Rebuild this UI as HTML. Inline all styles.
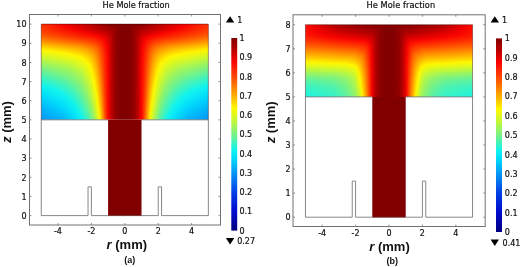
<!DOCTYPE html>
<html><head><meta charset="utf-8"><title>He Mole fraction</title>
<style>
html,body{margin:0;padding:0;background:#fff;overflow:hidden}
svg{display:block}
.t{font-family:"DejaVu Sans","Liberation Sans",sans-serif;font-size:8px;fill:#111;stroke:#111;stroke-width:.2px}
.b{font-family:"Liberation Sans","DejaVu Sans",sans-serif;font-weight:bold;fill:#111}
</style></head><body>
<svg width="520" height="267" viewBox="0 0 520 267">
<defs>
<clipPath id="cpa"><rect x="41.25" y="24.10" width="167.10" height="95.75"/></clipPath>
<linearGradient id="a24" gradientUnits="userSpaceOnUse" x1="41.25" x2="124.80" y1="0" y2="0" spreadMethod="reflect"><stop offset="0.000" stop-color="#fe3500"/><stop offset="0.263" stop-color="#f80400"/><stop offset="0.800" stop-color="#840000"/><stop offset="1.000" stop-color="#800000"/></linearGradient>
<linearGradient id="a25" gradientUnits="userSpaceOnUse" x1="41.25" x2="124.80" y1="0" y2="0" spreadMethod="reflect"><stop offset="0.000" stop-color="#fe3500"/><stop offset="0.275" stop-color="#f90400"/><stop offset="0.812" stop-color="#8c0000"/><stop offset="1.000" stop-color="#800000"/></linearGradient>
<linearGradient id="a26" gradientUnits="userSpaceOnUse" x1="41.25" x2="124.80" y1="0" y2="0" spreadMethod="reflect"><stop offset="0.000" stop-color="#fe3700"/><stop offset="0.300" stop-color="#f80400"/><stop offset="0.812" stop-color="#940000"/><stop offset="0.988" stop-color="#800000"/><stop offset="1.000" stop-color="#800000"/></linearGradient>
<linearGradient id="a27" gradientUnits="userSpaceOnUse" x1="41.25" x2="124.80" y1="0" y2="0" spreadMethod="reflect"><stop offset="0.000" stop-color="#fe3800"/><stop offset="0.325" stop-color="#f80400"/><stop offset="0.825" stop-color="#9b0000"/><stop offset="0.975" stop-color="#800000"/><stop offset="1.000" stop-color="#800000"/></linearGradient>
<linearGradient id="a28" gradientUnits="userSpaceOnUse" x1="41.25" x2="124.80" y1="0" y2="0" spreadMethod="reflect"><stop offset="0.000" stop-color="#fe3a00"/><stop offset="0.350" stop-color="#f90400"/><stop offset="0.875" stop-color="#940000"/><stop offset="0.963" stop-color="#800000"/><stop offset="1.000" stop-color="#800000"/></linearGradient>
<linearGradient id="a29" gradientUnits="userSpaceOnUse" x1="41.25" x2="124.80" y1="0" y2="0" spreadMethod="reflect"><stop offset="0.000" stop-color="#ff3c00"/><stop offset="0.375" stop-color="#fa0400"/><stop offset="0.850" stop-color="#9f0000"/><stop offset="0.938" stop-color="#830000"/><stop offset="1.000" stop-color="#800000"/></linearGradient>
<linearGradient id="a30" gradientUnits="userSpaceOnUse" x1="41.25" x2="124.80" y1="0" y2="0" spreadMethod="reflect"><stop offset="0.000" stop-color="#ff3f00"/><stop offset="0.412" stop-color="#f90400"/><stop offset="0.838" stop-color="#a70000"/><stop offset="0.938" stop-color="#830000"/><stop offset="1.000" stop-color="#800000"/></linearGradient>
<linearGradient id="a31" gradientUnits="userSpaceOnUse" x1="41.25" x2="124.80" y1="0" y2="0" spreadMethod="reflect"><stop offset="0.000" stop-color="#ff4300"/><stop offset="0.463" stop-color="#f80400"/><stop offset="0.812" stop-color="#b30000"/><stop offset="0.925" stop-color="#860000"/><stop offset="1.000" stop-color="#800000"/></linearGradient>
<linearGradient id="a32" gradientUnits="userSpaceOnUse" x1="41.25" x2="124.80" y1="0" y2="0" spreadMethod="reflect"><stop offset="0.000" stop-color="#ff4700"/><stop offset="0.512" stop-color="#f80400"/><stop offset="0.787" stop-color="#c00000"/><stop offset="0.850" stop-color="#a60000"/><stop offset="0.925" stop-color="#860000"/><stop offset="1.000" stop-color="#800000"/></linearGradient>
<linearGradient id="a33" gradientUnits="userSpaceOnUse" x1="41.25" x2="124.80" y1="0" y2="0" spreadMethod="reflect"><stop offset="0.000" stop-color="#ff4d00"/><stop offset="0.562" stop-color="#f90400"/><stop offset="0.762" stop-color="#cd0000"/><stop offset="0.825" stop-color="#b70000"/><stop offset="0.900" stop-color="#8d0000"/><stop offset="0.975" stop-color="#800000"/><stop offset="1.000" stop-color="#800000"/></linearGradient>
<linearGradient id="a34" gradientUnits="userSpaceOnUse" x1="41.25" x2="124.80" y1="0" y2="0" spreadMethod="reflect"><stop offset="0.000" stop-color="#ff5400"/><stop offset="0.613" stop-color="#fa0400"/><stop offset="0.800" stop-color="#c80000"/><stop offset="0.900" stop-color="#8d0000"/><stop offset="0.975" stop-color="#800000"/><stop offset="1.000" stop-color="#800000"/></linearGradient>
<linearGradient id="a35" gradientUnits="userSpaceOnUse" x1="41.25" x2="124.80" y1="0" y2="0" spreadMethod="reflect"><stop offset="0.000" stop-color="#ff5c00"/><stop offset="0.662" stop-color="#f90400"/><stop offset="0.800" stop-color="#cd0000"/><stop offset="0.900" stop-color="#8d0000"/><stop offset="0.975" stop-color="#800000"/><stop offset="1.000" stop-color="#800000"/></linearGradient>
<linearGradient id="a36" gradientUnits="userSpaceOnUse" x1="41.25" x2="124.80" y1="0" y2="0" spreadMethod="reflect"><stop offset="0.000" stop-color="#ff6400"/><stop offset="0.650" stop-color="#fc0c00"/><stop offset="0.700" stop-color="#f80400"/><stop offset="0.800" stop-color="#d20000"/><stop offset="0.887" stop-color="#930000"/><stop offset="0.963" stop-color="#800000"/><stop offset="1.000" stop-color="#800000"/></linearGradient>
<linearGradient id="a37" gradientUnits="userSpaceOnUse" x1="41.25" x2="124.80" y1="0" y2="0" spreadMethod="reflect"><stop offset="0.000" stop-color="#ff6d00"/><stop offset="0.637" stop-color="#fd1700"/><stop offset="0.725" stop-color="#f80400"/><stop offset="0.800" stop-color="#d60100"/><stop offset="0.887" stop-color="#930000"/><stop offset="0.963" stop-color="#800000"/><stop offset="1.000" stop-color="#800000"/></linearGradient>
<linearGradient id="a38" gradientUnits="userSpaceOnUse" x1="41.25" x2="124.80" y1="0" y2="0" spreadMethod="reflect"><stop offset="0.000" stop-color="#ff7700"/><stop offset="0.625" stop-color="#fd2300"/><stop offset="0.738" stop-color="#fa0400"/><stop offset="0.800" stop-color="#da0100"/><stop offset="0.875" stop-color="#9a0000"/><stop offset="0.938" stop-color="#830000"/><stop offset="1.000" stop-color="#800000"/></linearGradient>
<linearGradient id="a39" gradientUnits="userSpaceOnUse" x1="41.25" x2="124.80" y1="0" y2="0" spreadMethod="reflect"><stop offset="0.000" stop-color="#ff8000"/><stop offset="0.613" stop-color="#fe2e00"/><stop offset="0.738" stop-color="#fc0800"/><stop offset="0.762" stop-color="#f30300"/><stop offset="0.800" stop-color="#dd0100"/><stop offset="0.875" stop-color="#9a0000"/><stop offset="0.938" stop-color="#830000"/><stop offset="1.000" stop-color="#800000"/></linearGradient>
<linearGradient id="a40" gradientUnits="userSpaceOnUse" x1="41.25" x2="124.80" y1="0" y2="0" spreadMethod="reflect"><stop offset="0.000" stop-color="#ff8a00"/><stop offset="0.550" stop-color="#ff4200"/><stop offset="0.700" stop-color="#fd1e00"/><stop offset="0.762" stop-color="#f70400"/><stop offset="0.812" stop-color="#d20000"/><stop offset="0.887" stop-color="#930000"/><stop offset="0.963" stop-color="#800000"/><stop offset="1.000" stop-color="#800000"/></linearGradient>
<linearGradient id="a41" gradientUnits="userSpaceOnUse" x1="41.25" x2="124.80" y1="0" y2="0" spreadMethod="reflect"><stop offset="0.000" stop-color="#ff9500"/><stop offset="0.525" stop-color="#ff5100"/><stop offset="0.688" stop-color="#fe2a00"/><stop offset="0.762" stop-color="#fc0400"/><stop offset="0.812" stop-color="#d40100"/><stop offset="0.875" stop-color="#9b0000"/><stop offset="0.938" stop-color="#830000"/><stop offset="1.000" stop-color="#800000"/></linearGradient>
<linearGradient id="a42" gradientUnits="userSpaceOnUse" x1="41.25" x2="124.80" y1="0" y2="0" spreadMethod="reflect"><stop offset="0.000" stop-color="#ffa000"/><stop offset="0.500" stop-color="#ff6100"/><stop offset="0.675" stop-color="#fe3600"/><stop offset="0.762" stop-color="#fc0700"/><stop offset="0.800" stop-color="#e40200"/><stop offset="0.863" stop-color="#a40000"/><stop offset="0.925" stop-color="#860000"/><stop offset="1.000" stop-color="#800000"/></linearGradient>
<linearGradient id="a43" gradientUnits="userSpaceOnUse" x1="41.25" x2="124.80" y1="0" y2="0" spreadMethod="reflect"><stop offset="0.000" stop-color="#ffac00"/><stop offset="0.487" stop-color="#ff6f00"/><stop offset="0.637" stop-color="#ff4b00"/><stop offset="0.725" stop-color="#fd2300"/><stop offset="0.775" stop-color="#f90400"/><stop offset="0.812" stop-color="#d70100"/><stop offset="0.875" stop-color="#9b0000"/><stop offset="0.938" stop-color="#830000"/><stop offset="1.000" stop-color="#800000"/></linearGradient>
<linearGradient id="a44" gradientUnits="userSpaceOnUse" x1="41.25" x2="124.80" y1="0" y2="0" spreadMethod="reflect"><stop offset="0.000" stop-color="#ffb800"/><stop offset="0.487" stop-color="#ff7b00"/><stop offset="0.637" stop-color="#ff5500"/><stop offset="0.725" stop-color="#fe2700"/><stop offset="0.775" stop-color="#fb0400"/><stop offset="0.800" stop-color="#e80200"/><stop offset="0.850" stop-color="#b00000"/><stop offset="0.900" stop-color="#8e0000"/><stop offset="0.975" stop-color="#800000"/><stop offset="1.000" stop-color="#800000"/></linearGradient>
<linearGradient id="a45" gradientUnits="userSpaceOnUse" x1="41.25" x2="124.80" y1="0" y2="0" spreadMethod="reflect"><stop offset="0.000" stop-color="#ffc400"/><stop offset="0.475" stop-color="#ff8900"/><stop offset="0.625" stop-color="#ff6200"/><stop offset="0.713" stop-color="#fe3400"/><stop offset="0.775" stop-color="#fc0600"/><stop offset="0.800" stop-color="#ea0200"/><stop offset="0.850" stop-color="#b10000"/><stop offset="0.887" stop-color="#940000"/><stop offset="0.950" stop-color="#810000"/><stop offset="1.000" stop-color="#800000"/></linearGradient>
<linearGradient id="a46" gradientUnits="userSpaceOnUse" x1="41.25" x2="124.80" y1="0" y2="0" spreadMethod="reflect"><stop offset="0.000" stop-color="#ffcf00"/><stop offset="0.463" stop-color="#ff9600"/><stop offset="0.613" stop-color="#ff7000"/><stop offset="0.688" stop-color="#ff4a00"/><stop offset="0.775" stop-color="#fc0700"/><stop offset="0.800" stop-color="#eb0300"/><stop offset="0.863" stop-color="#a50000"/><stop offset="0.912" stop-color="#890000"/><stop offset="0.988" stop-color="#800000"/><stop offset="1.000" stop-color="#800000"/></linearGradient>
<linearGradient id="a47" gradientUnits="userSpaceOnUse" x1="41.25" x2="124.80" y1="0" y2="0" spreadMethod="reflect"><stop offset="0.000" stop-color="#ffdb00"/><stop offset="0.463" stop-color="#ffa000"/><stop offset="0.600" stop-color="#ff7d00"/><stop offset="0.675" stop-color="#ff5900"/><stop offset="0.775" stop-color="#fc0900"/><stop offset="0.800" stop-color="#ec0300"/><stop offset="0.850" stop-color="#b10000"/><stop offset="0.887" stop-color="#940000"/><stop offset="0.950" stop-color="#810000"/><stop offset="1.000" stop-color="#800000"/></linearGradient>
<linearGradient id="a48" gradientUnits="userSpaceOnUse" x1="41.25" x2="124.80" y1="0" y2="0" spreadMethod="reflect"><stop offset="0.000" stop-color="#ffe600"/><stop offset="0.438" stop-color="#ffaf00"/><stop offset="0.588" stop-color="#ff8a00"/><stop offset="0.662" stop-color="#ff6800"/><stop offset="0.787" stop-color="#f80400"/><stop offset="0.812" stop-color="#dc0100"/><stop offset="0.875" stop-color="#9b0000"/><stop offset="0.938" stop-color="#830000"/><stop offset="1.000" stop-color="#800000"/></linearGradient>
<linearGradient id="a49" gradientUnits="userSpaceOnUse" x1="41.25" x2="124.80" y1="0" y2="0" spreadMethod="reflect"><stop offset="0.000" stop-color="#fff100"/><stop offset="0.425" stop-color="#ffbd00"/><stop offset="0.588" stop-color="#ff9300"/><stop offset="0.662" stop-color="#ff6e00"/><stop offset="0.787" stop-color="#f90400"/><stop offset="0.863" stop-color="#a50000"/><stop offset="0.912" stop-color="#890000"/><stop offset="0.988" stop-color="#800000"/><stop offset="1.000" stop-color="#800000"/></linearGradient>
<linearGradient id="a50" gradientUnits="userSpaceOnUse" x1="41.25" x2="124.80" y1="0" y2="0" spreadMethod="reflect"><stop offset="0.000" stop-color="#fcf803"/><stop offset="0.350" stop-color="#ffd300"/><stop offset="0.537" stop-color="#ffac00"/><stop offset="0.637" stop-color="#ff8400"/><stop offset="0.700" stop-color="#ff5200"/><stop offset="0.787" stop-color="#fa0400"/><stop offset="0.863" stop-color="#a60000"/><stop offset="0.912" stop-color="#890000"/><stop offset="0.988" stop-color="#800000"/><stop offset="1.000" stop-color="#800000"/></linearGradient>
<linearGradient id="a51" gradientUnits="userSpaceOnUse" x1="41.25" x2="124.80" y1="0" y2="0" spreadMethod="reflect"><stop offset="0.000" stop-color="#f4f80a"/><stop offset="0.175" stop-color="#fff300"/><stop offset="0.463" stop-color="#ffc900"/><stop offset="0.600" stop-color="#ff9d00"/><stop offset="0.662" stop-color="#ff7800"/><stop offset="0.787" stop-color="#fb0400"/><stop offset="0.812" stop-color="#de0100"/><stop offset="0.863" stop-color="#a60000"/><stop offset="0.912" stop-color="#890000"/><stop offset="0.988" stop-color="#800000"/><stop offset="1.000" stop-color="#800000"/></linearGradient>
<linearGradient id="a52" gradientUnits="userSpaceOnUse" x1="41.25" x2="124.80" y1="0" y2="0" spreadMethod="reflect"><stop offset="0.000" stop-color="#edf811"/><stop offset="0.237" stop-color="#fff500"/><stop offset="0.475" stop-color="#ffce00"/><stop offset="0.600" stop-color="#ffa300"/><stop offset="0.662" stop-color="#ff7d00"/><stop offset="0.787" stop-color="#fc0400"/><stop offset="0.812" stop-color="#de0100"/><stop offset="0.863" stop-color="#a60000"/><stop offset="0.912" stop-color="#890000"/><stop offset="0.988" stop-color="#800000"/><stop offset="1.000" stop-color="#800000"/></linearGradient>
<linearGradient id="a53" gradientUnits="userSpaceOnUse" x1="41.25" x2="124.80" y1="0" y2="0" spreadMethod="reflect"><stop offset="0.000" stop-color="#e5f817"/><stop offset="0.312" stop-color="#fff400"/><stop offset="0.487" stop-color="#ffd300"/><stop offset="0.600" stop-color="#ffaa00"/><stop offset="0.662" stop-color="#ff8100"/><stop offset="0.787" stop-color="#fc0500"/><stop offset="0.812" stop-color="#de0100"/><stop offset="0.863" stop-color="#a60000"/><stop offset="0.912" stop-color="#890000"/><stop offset="0.988" stop-color="#800000"/><stop offset="1.000" stop-color="#800000"/></linearGradient>
<linearGradient id="a54" gradientUnits="userSpaceOnUse" x1="41.25" x2="124.80" y1="0" y2="0" spreadMethod="reflect"><stop offset="0.000" stop-color="#def81e"/><stop offset="0.362" stop-color="#fff500"/><stop offset="0.512" stop-color="#ffd400"/><stop offset="0.613" stop-color="#ffa900"/><stop offset="0.675" stop-color="#ff7900"/><stop offset="0.787" stop-color="#fc0500"/><stop offset="0.800" stop-color="#f20300"/><stop offset="0.850" stop-color="#b20000"/><stop offset="0.887" stop-color="#940000"/><stop offset="0.950" stop-color="#810000"/><stop offset="1.000" stop-color="#800000"/></linearGradient>
<linearGradient id="a55" gradientUnits="userSpaceOnUse" x1="41.25" x2="124.80" y1="0" y2="0" spreadMethod="reflect"><stop offset="0.000" stop-color="#d7f824"/><stop offset="0.412" stop-color="#fff500"/><stop offset="0.550" stop-color="#ffce00"/><stop offset="0.637" stop-color="#ff9e00"/><stop offset="0.700" stop-color="#ff6200"/><stop offset="0.787" stop-color="#fc0600"/><stop offset="0.800" stop-color="#f20300"/><stop offset="0.850" stop-color="#b20000"/><stop offset="0.887" stop-color="#940000"/><stop offset="0.950" stop-color="#810000"/><stop offset="1.000" stop-color="#800000"/></linearGradient>
<linearGradient id="a56" gradientUnits="userSpaceOnUse" x1="41.25" x2="124.80" y1="0" y2="0" spreadMethod="reflect"><stop offset="0.000" stop-color="#d0f82a"/><stop offset="0.400" stop-color="#f9f806"/><stop offset="0.463" stop-color="#fff200"/><stop offset="0.575" stop-color="#ffc900"/><stop offset="0.650" stop-color="#ff9800"/><stop offset="0.725" stop-color="#ff4600"/><stop offset="0.787" stop-color="#fc0700"/><stop offset="0.800" stop-color="#f30300"/><stop offset="0.838" stop-color="#c00000"/><stop offset="0.887" stop-color="#940000"/><stop offset="0.950" stop-color="#810000"/><stop offset="1.000" stop-color="#800000"/></linearGradient>
<linearGradient id="a57" gradientUnits="userSpaceOnUse" x1="41.25" x2="124.80" y1="0" y2="0" spreadMethod="reflect"><stop offset="0.000" stop-color="#c8f832"/><stop offset="0.425" stop-color="#f6f808"/><stop offset="0.487" stop-color="#fff200"/><stop offset="0.588" stop-color="#ffc900"/><stop offset="0.662" stop-color="#ff9000"/><stop offset="0.775" stop-color="#fd1300"/><stop offset="0.800" stop-color="#f30300"/><stop offset="0.838" stop-color="#c00000"/><stop offset="0.887" stop-color="#940000"/><stop offset="0.950" stop-color="#810000"/><stop offset="1.000" stop-color="#800000"/></linearGradient>
<linearGradient id="a58" gradientUnits="userSpaceOnUse" x1="41.25" x2="124.80" y1="0" y2="0" spreadMethod="reflect"><stop offset="0.000" stop-color="#c1f73a"/><stop offset="0.412" stop-color="#eef80f"/><stop offset="0.500" stop-color="#fff500"/><stop offset="0.600" stop-color="#ffc700"/><stop offset="0.675" stop-color="#ff8700"/><stop offset="0.775" stop-color="#fd1300"/><stop offset="0.800" stop-color="#f40300"/><stop offset="0.838" stop-color="#c00000"/><stop offset="0.887" stop-color="#940000"/><stop offset="0.950" stop-color="#810000"/><stop offset="1.000" stop-color="#800000"/></linearGradient>
<linearGradient id="a59" gradientUnits="userSpaceOnUse" x1="41.25" x2="124.80" y1="0" y2="0" spreadMethod="reflect"><stop offset="0.000" stop-color="#b9f742"/><stop offset="0.425" stop-color="#eaf813"/><stop offset="0.512" stop-color="#fff700"/><stop offset="0.600" stop-color="#ffcc00"/><stop offset="0.675" stop-color="#ff8a00"/><stop offset="0.775" stop-color="#fd1400"/><stop offset="0.800" stop-color="#f40300"/><stop offset="0.838" stop-color="#c00000"/><stop offset="0.887" stop-color="#940000"/><stop offset="0.950" stop-color="#810000"/><stop offset="1.000" stop-color="#800000"/></linearGradient>
<linearGradient id="a60" gradientUnits="userSpaceOnUse" x1="41.25" x2="124.80" y1="0" y2="0" spreadMethod="reflect"><stop offset="0.000" stop-color="#b2f649"/><stop offset="0.425" stop-color="#e5f818"/><stop offset="0.525" stop-color="#fef801"/><stop offset="0.600" stop-color="#ffd000"/><stop offset="0.675" stop-color="#ff8d00"/><stop offset="0.775" stop-color="#fd1500"/><stop offset="0.800" stop-color="#f40300"/><stop offset="0.838" stop-color="#c00000"/><stop offset="0.887" stop-color="#940000"/><stop offset="0.950" stop-color="#810000"/><stop offset="1.000" stop-color="#800000"/></linearGradient>
<linearGradient id="a61" gradientUnits="userSpaceOnUse" x1="41.25" x2="124.80" y1="0" y2="0" spreadMethod="reflect"><stop offset="0.000" stop-color="#aaf651"/><stop offset="0.412" stop-color="#ddf81f"/><stop offset="0.550" stop-color="#fff400"/><stop offset="0.625" stop-color="#ffc100"/><stop offset="0.688" stop-color="#ff8100"/><stop offset="0.762" stop-color="#fd2300"/><stop offset="0.787" stop-color="#fc0900"/><stop offset="0.800" stop-color="#f50300"/><stop offset="0.838" stop-color="#c00000"/><stop offset="0.887" stop-color="#940000"/><stop offset="0.950" stop-color="#810000"/><stop offset="1.000" stop-color="#800000"/></linearGradient>
<linearGradient id="a62" gradientUnits="userSpaceOnUse" x1="41.25" x2="124.80" y1="0" y2="0" spreadMethod="reflect"><stop offset="0.000" stop-color="#a3f558"/><stop offset="0.375" stop-color="#d1f829"/><stop offset="0.525" stop-color="#f5f809"/><stop offset="0.562" stop-color="#fff300"/><stop offset="0.650" stop-color="#ffad00"/><stop offset="0.713" stop-color="#ff6200"/><stop offset="0.775" stop-color="#fd1600"/><stop offset="0.800" stop-color="#f50300"/><stop offset="0.838" stop-color="#c00000"/><stop offset="0.887" stop-color="#940000"/><stop offset="0.950" stop-color="#810000"/><stop offset="1.000" stop-color="#800000"/></linearGradient>
<linearGradient id="a63" gradientUnits="userSpaceOnUse" x1="41.25" x2="124.80" y1="0" y2="0" spreadMethod="reflect"><stop offset="0.000" stop-color="#9cf55f"/><stop offset="0.350" stop-color="#c7f833"/><stop offset="0.512" stop-color="#ecf811"/><stop offset="0.562" stop-color="#fff800"/><stop offset="0.637" stop-color="#ffbd00"/><stop offset="0.700" stop-color="#ff7600"/><stop offset="0.762" stop-color="#fd2400"/><stop offset="0.787" stop-color="#fc0a00"/><stop offset="0.800" stop-color="#f50300"/><stop offset="0.838" stop-color="#c00000"/><stop offset="0.887" stop-color="#940000"/><stop offset="0.950" stop-color="#810000"/><stop offset="1.000" stop-color="#800000"/></linearGradient>
<linearGradient id="a64" gradientUnits="userSpaceOnUse" x1="41.25" x2="124.80" y1="0" y2="0" spreadMethod="reflect"><stop offset="0.000" stop-color="#95f466"/><stop offset="0.338" stop-color="#bff73b"/><stop offset="0.512" stop-color="#e7f816"/><stop offset="0.575" stop-color="#fff400"/><stop offset="0.662" stop-color="#ffa700"/><stop offset="0.775" stop-color="#fd1700"/><stop offset="0.800" stop-color="#f60300"/><stop offset="0.838" stop-color="#c10000"/><stop offset="0.875" stop-color="#9c0000"/><stop offset="0.938" stop-color="#830000"/><stop offset="1.000" stop-color="#800000"/></linearGradient>
<linearGradient id="a65" gradientUnits="userSpaceOnUse" x1="41.25" x2="124.80" y1="0" y2="0" spreadMethod="reflect"><stop offset="0.000" stop-color="#8ff46d"/><stop offset="0.338" stop-color="#b9f742"/><stop offset="0.512" stop-color="#e3f81a"/><stop offset="0.575" stop-color="#fef801"/><stop offset="0.650" stop-color="#ffb700"/><stop offset="0.713" stop-color="#ff6800"/><stop offset="0.775" stop-color="#fd1700"/><stop offset="0.800" stop-color="#f60300"/><stop offset="0.838" stop-color="#c10000"/><stop offset="0.875" stop-color="#9c0000"/><stop offset="0.938" stop-color="#830000"/><stop offset="1.000" stop-color="#800000"/></linearGradient>
<linearGradient id="a66" gradientUnits="userSpaceOnUse" x1="41.25" x2="124.80" y1="0" y2="0" spreadMethod="reflect"><stop offset="0.000" stop-color="#88f374"/><stop offset="0.338" stop-color="#b3f648"/><stop offset="0.512" stop-color="#def81e"/><stop offset="0.588" stop-color="#fff400"/><stop offset="0.662" stop-color="#ffac00"/><stop offset="0.762" stop-color="#fe2600"/><stop offset="0.800" stop-color="#f60300"/><stop offset="0.838" stop-color="#c10000"/><stop offset="0.875" stop-color="#9c0000"/><stop offset="0.938" stop-color="#830000"/><stop offset="1.000" stop-color="#800000"/></linearGradient>
<linearGradient id="a67" gradientUnits="userSpaceOnUse" x1="41.25" x2="124.80" y1="0" y2="0" spreadMethod="reflect"><stop offset="0.000" stop-color="#82f37a"/><stop offset="0.338" stop-color="#adf64e"/><stop offset="0.500" stop-color="#d5f826"/><stop offset="0.588" stop-color="#fff800"/><stop offset="0.662" stop-color="#ffaf00"/><stop offset="0.762" stop-color="#fe2700"/><stop offset="0.787" stop-color="#fc0b00"/><stop offset="0.800" stop-color="#f60400"/><stop offset="0.838" stop-color="#c10000"/><stop offset="0.875" stop-color="#9c0000"/><stop offset="0.938" stop-color="#830000"/><stop offset="1.000" stop-color="#800000"/></linearGradient>
<linearGradient id="a68" gradientUnits="userSpaceOnUse" x1="41.25" x2="124.80" y1="0" y2="0" spreadMethod="reflect"><stop offset="0.000" stop-color="#7bf281"/><stop offset="0.325" stop-color="#a5f556"/><stop offset="0.487" stop-color="#cdf82d"/><stop offset="0.575" stop-color="#f4f80a"/><stop offset="0.600" stop-color="#fff100"/><stop offset="0.675" stop-color="#ffa300"/><stop offset="0.750" stop-color="#fe3700"/><stop offset="0.787" stop-color="#fc0b00"/><stop offset="0.800" stop-color="#f70400"/><stop offset="0.838" stop-color="#c10000"/><stop offset="0.875" stop-color="#9c0000"/><stop offset="0.938" stop-color="#830000"/><stop offset="1.000" stop-color="#800000"/></linearGradient>
<linearGradient id="a69" gradientUnits="userSpaceOnUse" x1="41.25" x2="124.80" y1="0" y2="0" spreadMethod="reflect"><stop offset="0.000" stop-color="#75f287"/><stop offset="0.338" stop-color="#a2f559"/><stop offset="0.487" stop-color="#c8f832"/><stop offset="0.600" stop-color="#fff500"/><stop offset="0.675" stop-color="#ffa500"/><stop offset="0.762" stop-color="#fe2800"/><stop offset="0.800" stop-color="#f70400"/><stop offset="0.838" stop-color="#c10000"/><stop offset="0.875" stop-color="#9c0000"/><stop offset="0.938" stop-color="#830000"/><stop offset="1.000" stop-color="#800000"/></linearGradient>
<linearGradient id="a70" gradientUnits="userSpaceOnUse" x1="41.25" x2="124.80" y1="0" y2="0" spreadMethod="reflect"><stop offset="0.000" stop-color="#6df28f"/><stop offset="0.350" stop-color="#9ff55c"/><stop offset="0.500" stop-color="#c8f832"/><stop offset="0.600" stop-color="#fef801"/><stop offset="0.662" stop-color="#ffb700"/><stop offset="0.725" stop-color="#ff5e00"/><stop offset="0.775" stop-color="#fd1a00"/><stop offset="0.800" stop-color="#f70400"/><stop offset="0.838" stop-color="#c10000"/><stop offset="0.875" stop-color="#9c0000"/><stop offset="0.938" stop-color="#830000"/><stop offset="1.000" stop-color="#800000"/></linearGradient>
<linearGradient id="a71" gradientUnits="userSpaceOnUse" x1="41.25" x2="124.80" y1="0" y2="0" spreadMethod="reflect"><stop offset="0.000" stop-color="#66f296"/><stop offset="0.350" stop-color="#9af461"/><stop offset="0.487" stop-color="#bff73c"/><stop offset="0.588" stop-color="#f3f80b"/><stop offset="0.613" stop-color="#fff100"/><stop offset="0.688" stop-color="#ff9900"/><stop offset="0.762" stop-color="#fe2900"/><stop offset="0.787" stop-color="#fc0c00"/><stop offset="0.800" stop-color="#f70400"/><stop offset="0.838" stop-color="#c10000"/><stop offset="0.875" stop-color="#9c0000"/><stop offset="0.938" stop-color="#830000"/><stop offset="1.000" stop-color="#800000"/></linearGradient>
<linearGradient id="a72" gradientUnits="userSpaceOnUse" x1="41.25" x2="124.80" y1="0" y2="0" spreadMethod="reflect"><stop offset="0.000" stop-color="#5ff29d"/><stop offset="0.362" stop-color="#98f463"/><stop offset="0.487" stop-color="#baf740"/><stop offset="0.613" stop-color="#fff400"/><stop offset="0.675" stop-color="#ffac00"/><stop offset="0.762" stop-color="#fe2a00"/><stop offset="0.800" stop-color="#f70400"/><stop offset="0.838" stop-color="#c10000"/><stop offset="0.875" stop-color="#9c0000"/><stop offset="0.938" stop-color="#830000"/><stop offset="1.000" stop-color="#800000"/></linearGradient>
<linearGradient id="a73" gradientUnits="userSpaceOnUse" x1="41.25" x2="124.80" y1="0" y2="0" spreadMethod="reflect"><stop offset="0.000" stop-color="#59f3a4"/><stop offset="0.362" stop-color="#93f468"/><stop offset="0.500" stop-color="#bbf73f"/><stop offset="0.613" stop-color="#fff700"/><stop offset="0.688" stop-color="#ff9d00"/><stop offset="0.762" stop-color="#fe2b00"/><stop offset="0.800" stop-color="#f70400"/><stop offset="0.838" stop-color="#c10000"/><stop offset="0.875" stop-color="#9c0000"/><stop offset="0.938" stop-color="#830000"/><stop offset="1.000" stop-color="#800000"/></linearGradient>
<linearGradient id="a74" gradientUnits="userSpaceOnUse" x1="41.25" x2="124.80" y1="0" y2="0" spreadMethod="reflect"><stop offset="0.000" stop-color="#52f3ab"/><stop offset="0.350" stop-color="#8cf370"/><stop offset="0.487" stop-color="#b2f649"/><stop offset="0.600" stop-color="#f3f80b"/><stop offset="0.613" stop-color="#fdf802"/><stop offset="0.662" stop-color="#ffc200"/><stop offset="0.762" stop-color="#fe2b00"/><stop offset="0.800" stop-color="#f80400"/><stop offset="0.838" stop-color="#c10000"/><stop offset="0.875" stop-color="#9c0000"/><stop offset="0.938" stop-color="#830000"/><stop offset="1.000" stop-color="#800000"/></linearGradient>
<linearGradient id="a75" gradientUnits="userSpaceOnUse" x1="41.25" x2="124.80" y1="0" y2="0" spreadMethod="reflect"><stop offset="0.000" stop-color="#4bf3b2"/><stop offset="0.325" stop-color="#82f37a"/><stop offset="0.487" stop-color="#aef64d"/><stop offset="0.600" stop-color="#f1f80d"/><stop offset="0.625" stop-color="#fff000"/><stop offset="0.688" stop-color="#ffa100"/><stop offset="0.762" stop-color="#fe2c00"/><stop offset="0.787" stop-color="#fc0d00"/><stop offset="0.800" stop-color="#f80400"/><stop offset="0.838" stop-color="#c10000"/><stop offset="0.875" stop-color="#9c0000"/><stop offset="0.938" stop-color="#830000"/><stop offset="1.000" stop-color="#800000"/></linearGradient>
<linearGradient id="a76" gradientUnits="userSpaceOnUse" x1="41.25" x2="124.80" y1="0" y2="0" spreadMethod="reflect"><stop offset="0.000" stop-color="#45f3b9"/><stop offset="0.300" stop-color="#78f284"/><stop offset="0.475" stop-color="#a5f556"/><stop offset="0.575" stop-color="#dcf81f"/><stop offset="0.625" stop-color="#fff300"/><stop offset="0.688" stop-color="#ffa400"/><stop offset="0.762" stop-color="#fe2d00"/><stop offset="0.800" stop-color="#f80400"/><stop offset="0.838" stop-color="#c10000"/><stop offset="0.875" stop-color="#9c0000"/><stop offset="0.938" stop-color="#830000"/><stop offset="1.000" stop-color="#800000"/></linearGradient>
<linearGradient id="a77" gradientUnits="userSpaceOnUse" x1="41.25" x2="124.80" y1="0" y2="0" spreadMethod="reflect"><stop offset="0.000" stop-color="#3ff3bf"/><stop offset="0.275" stop-color="#6df28f"/><stop offset="0.475" stop-color="#a1f55a"/><stop offset="0.575" stop-color="#d9f822"/><stop offset="0.625" stop-color="#fff700"/><stop offset="0.688" stop-color="#ffa600"/><stop offset="0.762" stop-color="#fe2d00"/><stop offset="0.800" stop-color="#f80400"/><stop offset="0.838" stop-color="#c10000"/><stop offset="0.875" stop-color="#9c0000"/><stop offset="0.938" stop-color="#830000"/><stop offset="1.000" stop-color="#800000"/></linearGradient>
<linearGradient id="a78" gradientUnits="userSpaceOnUse" x1="41.25" x2="124.80" y1="0" y2="0" spreadMethod="reflect"><stop offset="0.000" stop-color="#38f3c5"/><stop offset="0.275" stop-color="#67f295"/><stop offset="0.487" stop-color="#a2f559"/><stop offset="0.588" stop-color="#dff81d"/><stop offset="0.625" stop-color="#fef801"/><stop offset="0.688" stop-color="#ffa800"/><stop offset="0.762" stop-color="#fe2e00"/><stop offset="0.800" stop-color="#f80400"/><stop offset="0.838" stop-color="#c10000"/><stop offset="0.875" stop-color="#9c0000"/><stop offset="0.938" stop-color="#830000"/><stop offset="1.000" stop-color="#800000"/></linearGradient>
<linearGradient id="a79" gradientUnits="userSpaceOnUse" x1="41.25" x2="124.80" y1="0" y2="0" spreadMethod="reflect"><stop offset="0.000" stop-color="#32f3cc"/><stop offset="0.275" stop-color="#62f29b"/><stop offset="0.487" stop-color="#9ef55d"/><stop offset="0.600" stop-color="#e6f816"/><stop offset="0.625" stop-color="#fbf803"/><stop offset="0.662" stop-color="#ffce00"/><stop offset="0.725" stop-color="#ff6b00"/><stop offset="0.762" stop-color="#fe2e00"/><stop offset="0.800" stop-color="#f80400"/><stop offset="0.838" stop-color="#c10000"/><stop offset="0.875" stop-color="#9c0000"/><stop offset="0.938" stop-color="#830000"/><stop offset="1.000" stop-color="#800000"/></linearGradient>
<linearGradient id="a80" gradientUnits="userSpaceOnUse" x1="41.25" x2="124.80" y1="0" y2="0" spreadMethod="reflect"><stop offset="0.000" stop-color="#2cf3d2"/><stop offset="0.287" stop-color="#5ff29e"/><stop offset="0.487" stop-color="#9bf460"/><stop offset="0.562" stop-color="#c8f832"/><stop offset="0.625" stop-color="#f9f805"/><stop offset="0.637" stop-color="#fff100"/><stop offset="0.700" stop-color="#ff9800"/><stop offset="0.762" stop-color="#fe2f00"/><stop offset="0.800" stop-color="#f80400"/><stop offset="0.838" stop-color="#c10000"/><stop offset="0.875" stop-color="#9c0000"/><stop offset="0.938" stop-color="#830000"/><stop offset="1.000" stop-color="#800000"/></linearGradient>
<linearGradient id="a81" gradientUnits="userSpaceOnUse" x1="41.25" x2="124.80" y1="0" y2="0" spreadMethod="reflect"><stop offset="0.000" stop-color="#26f4d8"/><stop offset="0.275" stop-color="#57f3a6"/><stop offset="0.487" stop-color="#97f464"/><stop offset="0.588" stop-color="#d7f824"/><stop offset="0.637" stop-color="#fff400"/><stop offset="0.700" stop-color="#ff9a00"/><stop offset="0.762" stop-color="#fe3000"/><stop offset="0.800" stop-color="#f80400"/><stop offset="0.838" stop-color="#c10000"/><stop offset="0.875" stop-color="#9c0000"/><stop offset="0.938" stop-color="#830000"/><stop offset="1.000" stop-color="#800000"/></linearGradient>
<linearGradient id="a82" gradientUnits="userSpaceOnUse" x1="41.25" x2="124.80" y1="0" y2="0" spreadMethod="reflect"><stop offset="0.000" stop-color="#20f4df"/><stop offset="0.275" stop-color="#51f3ac"/><stop offset="0.487" stop-color="#94f468"/><stop offset="0.562" stop-color="#c2f739"/><stop offset="0.637" stop-color="#fff700"/><stop offset="0.700" stop-color="#ff9c00"/><stop offset="0.762" stop-color="#fe3000"/><stop offset="0.800" stop-color="#f80400"/><stop offset="0.838" stop-color="#c10000"/><stop offset="0.875" stop-color="#9c0000"/><stop offset="0.938" stop-color="#830000"/><stop offset="1.000" stop-color="#800000"/></linearGradient>
<linearGradient id="a83" gradientUnits="userSpaceOnUse" x1="41.25" x2="124.80" y1="0" y2="0" spreadMethod="reflect"><stop offset="0.000" stop-color="#1af4e5"/><stop offset="0.275" stop-color="#4cf3b2"/><stop offset="0.475" stop-color="#8bf370"/><stop offset="0.550" stop-color="#b5f646"/><stop offset="0.637" stop-color="#fef801"/><stop offset="0.688" stop-color="#ffb300"/><stop offset="0.762" stop-color="#fe3100"/><stop offset="0.800" stop-color="#f90400"/><stop offset="0.838" stop-color="#c10000"/><stop offset="0.875" stop-color="#9c0000"/><stop offset="0.938" stop-color="#830000"/><stop offset="1.000" stop-color="#800000"/></linearGradient>
<linearGradient id="a84" gradientUnits="userSpaceOnUse" x1="41.25" x2="124.80" y1="0" y2="0" spreadMethod="reflect"><stop offset="0.000" stop-color="#14f4eb"/><stop offset="0.275" stop-color="#46f3b7"/><stop offset="0.450" stop-color="#7ef27e"/><stop offset="0.537" stop-color="#a8f553"/><stop offset="0.637" stop-color="#fcf803"/><stop offset="0.675" stop-color="#ffc900"/><stop offset="0.762" stop-color="#fe3200"/><stop offset="0.787" stop-color="#fd0f00"/><stop offset="0.800" stop-color="#f90400"/><stop offset="0.838" stop-color="#c10000"/><stop offset="0.875" stop-color="#9c0000"/><stop offset="0.938" stop-color="#830000"/><stop offset="1.000" stop-color="#800000"/></linearGradient>
<linearGradient id="a85" gradientUnits="userSpaceOnUse" x1="41.25" x2="124.80" y1="0" y2="0" spreadMethod="reflect"><stop offset="0.000" stop-color="#0ff4f0"/><stop offset="0.250" stop-color="#3bf3c3"/><stop offset="0.425" stop-color="#70f28c"/><stop offset="0.525" stop-color="#9df55e"/><stop offset="0.625" stop-color="#edf810"/><stop offset="0.637" stop-color="#f9f805"/><stop offset="0.662" stop-color="#ffde00"/><stop offset="0.725" stop-color="#ff7500"/><stop offset="0.762" stop-color="#fe3200"/><stop offset="0.800" stop-color="#f90400"/><stop offset="0.838" stop-color="#c10000"/><stop offset="0.875" stop-color="#9c0000"/><stop offset="0.938" stop-color="#830000"/><stop offset="1.000" stop-color="#800000"/></linearGradient>
<linearGradient id="a86" gradientUnits="userSpaceOnUse" x1="41.25" x2="124.80" y1="0" y2="0" spreadMethod="reflect"><stop offset="0.000" stop-color="#0df1f2"/><stop offset="0.125" stop-color="#1cf4e3"/><stop offset="0.350" stop-color="#51f3ac"/><stop offset="0.512" stop-color="#92f469"/><stop offset="0.588" stop-color="#caf831"/><stop offset="0.637" stop-color="#f7f807"/><stop offset="0.650" stop-color="#fff200"/><stop offset="0.713" stop-color="#ff8e00"/><stop offset="0.762" stop-color="#fe3300"/><stop offset="0.800" stop-color="#f90400"/><stop offset="0.838" stop-color="#c10000"/><stop offset="0.875" stop-color="#9c0000"/><stop offset="0.938" stop-color="#830000"/><stop offset="1.000" stop-color="#800000"/></linearGradient>
<linearGradient id="a87" gradientUnits="userSpaceOnUse" x1="41.25" x2="124.80" y1="0" y2="0" spreadMethod="reflect"><stop offset="0.000" stop-color="#0ceef3"/><stop offset="0.125" stop-color="#16f4e9"/><stop offset="0.338" stop-color="#48f3b5"/><stop offset="0.487" stop-color="#83f379"/><stop offset="0.550" stop-color="#a7f554"/><stop offset="0.650" stop-color="#fff400"/><stop offset="0.713" stop-color="#ff9000"/><stop offset="0.762" stop-color="#fe3400"/><stop offset="0.800" stop-color="#f90400"/><stop offset="0.838" stop-color="#c20000"/><stop offset="0.887" stop-color="#940000"/><stop offset="0.950" stop-color="#810000"/><stop offset="1.000" stop-color="#800000"/></linearGradient>
<linearGradient id="a88" gradientUnits="userSpaceOnUse" x1="41.25" x2="124.80" y1="0" y2="0" spreadMethod="reflect"><stop offset="0.000" stop-color="#0aecf4"/><stop offset="0.138" stop-color="#13f4ec"/><stop offset="0.350" stop-color="#47f3b6"/><stop offset="0.500" stop-color="#85f377"/><stop offset="0.562" stop-color="#aef64d"/><stop offset="0.650" stop-color="#fff700"/><stop offset="0.700" stop-color="#ffa900"/><stop offset="0.762" stop-color="#fe3400"/><stop offset="0.800" stop-color="#f90400"/><stop offset="0.838" stop-color="#c20000"/><stop offset="0.887" stop-color="#940000"/><stop offset="0.950" stop-color="#810000"/><stop offset="1.000" stop-color="#800000"/></linearGradient>
<linearGradient id="a89" gradientUnits="userSpaceOnUse" x1="41.25" x2="124.80" y1="0" y2="0" spreadMethod="reflect"><stop offset="0.000" stop-color="#09e9f6"/><stop offset="0.175" stop-color="#15f4ea"/><stop offset="0.375" stop-color="#4bf3b3"/><stop offset="0.525" stop-color="#8ff46c"/><stop offset="0.613" stop-color="#d7f824"/><stop offset="0.650" stop-color="#fdf801"/><stop offset="0.700" stop-color="#ffab00"/><stop offset="0.762" stop-color="#fe3500"/><stop offset="0.800" stop-color="#f90400"/><stop offset="0.838" stop-color="#c20000"/><stop offset="0.887" stop-color="#940000"/><stop offset="0.950" stop-color="#810000"/><stop offset="1.000" stop-color="#800000"/></linearGradient>
<linearGradient id="a90" gradientUnits="userSpaceOnUse" x1="41.25" x2="124.80" y1="0" y2="0" spreadMethod="reflect"><stop offset="0.000" stop-color="#07e7f7"/><stop offset="0.200" stop-color="#15f4ea"/><stop offset="0.388" stop-color="#4af3b3"/><stop offset="0.537" stop-color="#94f468"/><stop offset="0.637" stop-color="#edf810"/><stop offset="0.650" stop-color="#fbf803"/><stop offset="0.675" stop-color="#ffd800"/><stop offset="0.738" stop-color="#ff6400"/><stop offset="0.775" stop-color="#fd2200"/><stop offset="0.800" stop-color="#f90400"/><stop offset="0.838" stop-color="#c20000"/><stop offset="0.887" stop-color="#940000"/><stop offset="0.950" stop-color="#810000"/><stop offset="1.000" stop-color="#800000"/></linearGradient>
<linearGradient id="a91" gradientUnits="userSpaceOnUse" x1="41.25" x2="124.80" y1="0" y2="0" spreadMethod="reflect"><stop offset="0.000" stop-color="#06e4f8"/><stop offset="0.212" stop-color="#13f4ec"/><stop offset="0.388" stop-color="#46f3b8"/><stop offset="0.525" stop-color="#88f373"/><stop offset="0.600" stop-color="#c6f834"/><stop offset="0.650" stop-color="#f9f805"/><stop offset="0.675" stop-color="#ffda00"/><stop offset="0.725" stop-color="#ff7f00"/><stop offset="0.762" stop-color="#fe3600"/><stop offset="0.800" stop-color="#f90400"/><stop offset="0.838" stop-color="#c20000"/><stop offset="0.887" stop-color="#940000"/><stop offset="0.950" stop-color="#810000"/><stop offset="1.000" stop-color="#800000"/></linearGradient>
<linearGradient id="a92" gradientUnits="userSpaceOnUse" x1="41.25" x2="124.80" y1="0" y2="0" spreadMethod="reflect"><stop offset="0.000" stop-color="#05e2fa"/><stop offset="0.237" stop-color="#13f4eb"/><stop offset="0.400" stop-color="#46f3b7"/><stop offset="0.537" stop-color="#8df36e"/><stop offset="0.625" stop-color="#dbf820"/><stop offset="0.650" stop-color="#f7f808"/><stop offset="0.662" stop-color="#fff000"/><stop offset="0.713" stop-color="#ff9a00"/><stop offset="0.762" stop-color="#fe3700"/><stop offset="0.800" stop-color="#f90400"/><stop offset="0.838" stop-color="#c20000"/><stop offset="0.887" stop-color="#940000"/><stop offset="0.950" stop-color="#810000"/><stop offset="1.000" stop-color="#800000"/></linearGradient>
<linearGradient id="a93" gradientUnits="userSpaceOnUse" x1="41.25" x2="124.80" y1="0" y2="0" spreadMethod="reflect"><stop offset="0.000" stop-color="#03e0fb"/><stop offset="0.250" stop-color="#12f4ed"/><stop offset="0.400" stop-color="#42f3bc"/><stop offset="0.537" stop-color="#8af372"/><stop offset="0.625" stop-color="#d9f822"/><stop offset="0.662" stop-color="#fff300"/><stop offset="0.713" stop-color="#ff9c00"/><stop offset="0.762" stop-color="#fe3800"/><stop offset="0.800" stop-color="#f90400"/><stop offset="0.838" stop-color="#c20000"/><stop offset="0.887" stop-color="#940000"/><stop offset="0.950" stop-color="#810000"/><stop offset="1.000" stop-color="#800000"/></linearGradient>
<linearGradient id="a94" gradientUnits="userSpaceOnUse" x1="41.25" x2="124.80" y1="0" y2="0" spreadMethod="reflect"><stop offset="0.000" stop-color="#02ddfc"/><stop offset="0.275" stop-color="#13f4ec"/><stop offset="0.425" stop-color="#48f3b5"/><stop offset="0.550" stop-color="#90f46c"/><stop offset="0.637" stop-color="#e4f819"/><stop offset="0.662" stop-color="#fff500"/><stop offset="0.713" stop-color="#ff9e00"/><stop offset="0.762" stop-color="#fe3900"/><stop offset="0.800" stop-color="#fa0400"/><stop offset="0.838" stop-color="#c20000"/><stop offset="0.887" stop-color="#940000"/><stop offset="0.950" stop-color="#810000"/><stop offset="1.000" stop-color="#800000"/></linearGradient>
<linearGradient id="a95" gradientUnits="userSpaceOnUse" x1="41.25" x2="124.80" y1="0" y2="0" spreadMethod="reflect"><stop offset="0.000" stop-color="#01dbfd"/><stop offset="0.287" stop-color="#12f4ed"/><stop offset="0.425" stop-color="#44f3b9"/><stop offset="0.550" stop-color="#8cf36f"/><stop offset="0.637" stop-color="#e1f81b"/><stop offset="0.662" stop-color="#fff800"/><stop offset="0.713" stop-color="#ffa000"/><stop offset="0.762" stop-color="#fe3900"/><stop offset="0.800" stop-color="#fa0400"/><stop offset="0.838" stop-color="#c20000"/><stop offset="0.887" stop-color="#940000"/><stop offset="0.950" stop-color="#810000"/><stop offset="1.000" stop-color="#800000"/></linearGradient>
<linearGradient id="a96" gradientUnits="userSpaceOnUse" x1="41.25" x2="124.80" y1="0" y2="0" spreadMethod="reflect"><stop offset="0.000" stop-color="#00d8fe"/><stop offset="0.300" stop-color="#11f4ee"/><stop offset="0.438" stop-color="#46f3b8"/><stop offset="0.550" stop-color="#89f373"/><stop offset="0.637" stop-color="#dff81d"/><stop offset="0.662" stop-color="#fdf802"/><stop offset="0.700" stop-color="#ffbb00"/><stop offset="0.762" stop-color="#fe3a00"/><stop offset="0.800" stop-color="#fa0400"/><stop offset="0.838" stop-color="#c20000"/><stop offset="0.887" stop-color="#940000"/><stop offset="0.950" stop-color="#810000"/><stop offset="1.000" stop-color="#800000"/></linearGradient>
<linearGradient id="a97" gradientUnits="userSpaceOnUse" x1="41.25" x2="124.80" y1="0" y2="0" spreadMethod="reflect"><stop offset="0.000" stop-color="#00d5fd"/><stop offset="0.300" stop-color="#0ef3f1"/><stop offset="0.412" stop-color="#36f3c8"/><stop offset="0.537" stop-color="#7df27f"/><stop offset="0.600" stop-color="#b4f647"/><stop offset="0.662" stop-color="#faf804"/><stop offset="0.688" stop-color="#ffd400"/><stop offset="0.762" stop-color="#fe3b00"/><stop offset="0.800" stop-color="#fa0400"/><stop offset="0.838" stop-color="#c20000"/><stop offset="0.887" stop-color="#940000"/><stop offset="0.950" stop-color="#810000"/><stop offset="1.000" stop-color="#800000"/></linearGradient>
<linearGradient id="a98" gradientUnits="userSpaceOnUse" x1="41.25" x2="124.80" y1="0" y2="0" spreadMethod="reflect"><stop offset="0.000" stop-color="#01d1fd"/><stop offset="0.263" stop-color="#0aecf4"/><stop offset="0.338" stop-color="#14f4eb"/><stop offset="0.463" stop-color="#4bf3b3"/><stop offset="0.562" stop-color="#8cf36f"/><stop offset="0.662" stop-color="#f8f806"/><stop offset="0.675" stop-color="#ffec00"/><stop offset="0.725" stop-color="#ff8c00"/><stop offset="0.775" stop-color="#fe2600"/><stop offset="0.800" stop-color="#fa0400"/><stop offset="0.838" stop-color="#c20000"/><stop offset="0.887" stop-color="#940000"/><stop offset="0.950" stop-color="#810000"/><stop offset="1.000" stop-color="#800000"/></linearGradient>
<linearGradient id="a99" gradientUnits="userSpaceOnUse" x1="41.25" x2="124.80" y1="0" y2="0" spreadMethod="reflect"><stop offset="0.000" stop-color="#01cefd"/><stop offset="0.237" stop-color="#07e7f7"/><stop offset="0.350" stop-color="#14f4eb"/><stop offset="0.475" stop-color="#4ef3af"/><stop offset="0.575" stop-color="#94f467"/><stop offset="0.662" stop-color="#f6f808"/><stop offset="0.675" stop-color="#ffef00"/><stop offset="0.725" stop-color="#ff8e00"/><stop offset="0.762" stop-color="#ff3c00"/><stop offset="0.800" stop-color="#fa0400"/><stop offset="0.838" stop-color="#c20000"/><stop offset="0.887" stop-color="#940000"/><stop offset="0.950" stop-color="#810000"/><stop offset="1.000" stop-color="#800000"/></linearGradient>
<linearGradient id="a100" gradientUnits="userSpaceOnUse" x1="41.25" x2="124.80" y1="0" y2="0" spreadMethod="reflect"><stop offset="0.000" stop-color="#01cbfc"/><stop offset="0.225" stop-color="#05e3f9"/><stop offset="0.362" stop-color="#14f4eb"/><stop offset="0.487" stop-color="#51f3ac"/><stop offset="0.575" stop-color="#91f46a"/><stop offset="0.662" stop-color="#f3f80a"/><stop offset="0.675" stop-color="#fff200"/><stop offset="0.725" stop-color="#ff8f00"/><stop offset="0.775" stop-color="#fe2700"/><stop offset="0.800" stop-color="#fa0400"/><stop offset="0.838" stop-color="#c20000"/><stop offset="0.887" stop-color="#940000"/><stop offset="0.950" stop-color="#810000"/><stop offset="1.000" stop-color="#800000"/></linearGradient>
<linearGradient id="a101" gradientUnits="userSpaceOnUse" x1="41.25" x2="124.80" y1="0" y2="0" spreadMethod="reflect"><stop offset="0.000" stop-color="#01c8fc"/><stop offset="0.225" stop-color="#04e1fa"/><stop offset="0.362" stop-color="#10f4ef"/><stop offset="0.475" stop-color="#46f3b7"/><stop offset="0.575" stop-color="#8ef46e"/><stop offset="0.675" stop-color="#fff400"/><stop offset="0.713" stop-color="#ffac00"/><stop offset="0.762" stop-color="#ff3e00"/><stop offset="0.800" stop-color="#fa0400"/><stop offset="0.838" stop-color="#c20000"/><stop offset="0.887" stop-color="#940000"/><stop offset="0.950" stop-color="#810000"/><stop offset="1.000" stop-color="#800000"/></linearGradient>
<linearGradient id="a102" gradientUnits="userSpaceOnUse" x1="41.25" x2="124.80" y1="0" y2="0" spreadMethod="reflect"><stop offset="0.000" stop-color="#02c5fb"/><stop offset="0.237" stop-color="#04e1fa"/><stop offset="0.375" stop-color="#11f4ee"/><stop offset="0.487" stop-color="#4af3b4"/><stop offset="0.575" stop-color="#8bf371"/><stop offset="0.650" stop-color="#dff81d"/><stop offset="0.675" stop-color="#fff700"/><stop offset="0.725" stop-color="#ff9300"/><stop offset="0.775" stop-color="#fe2800"/><stop offset="0.800" stop-color="#fa0400"/><stop offset="0.838" stop-color="#c20000"/><stop offset="0.887" stop-color="#940000"/><stop offset="0.950" stop-color="#810000"/><stop offset="1.000" stop-color="#800000"/></linearGradient>
<linearGradient id="a103" gradientUnits="userSpaceOnUse" x1="41.25" x2="124.80" y1="0" y2="0" spreadMethod="reflect"><stop offset="0.000" stop-color="#02c1fb"/><stop offset="0.250" stop-color="#04e0fb"/><stop offset="0.388" stop-color="#12f4ed"/><stop offset="0.500" stop-color="#4ef3af"/><stop offset="0.588" stop-color="#93f468"/><stop offset="0.675" stop-color="#fdf801"/><stop offset="0.713" stop-color="#ffb100"/><stop offset="0.762" stop-color="#ff4000"/><stop offset="0.800" stop-color="#fa0400"/><stop offset="0.838" stop-color="#c20000"/><stop offset="0.887" stop-color="#940000"/><stop offset="0.950" stop-color="#810000"/><stop offset="1.000" stop-color="#800000"/></linearGradient>
<linearGradient id="a104" gradientUnits="userSpaceOnUse" x1="41.25" x2="124.80" y1="0" y2="0" spreadMethod="reflect"><stop offset="0.000" stop-color="#02befb"/><stop offset="0.275" stop-color="#04e2fa"/><stop offset="0.400" stop-color="#13f4eb"/><stop offset="0.512" stop-color="#53f3ab"/><stop offset="0.588" stop-color="#90f46b"/><stop offset="0.675" stop-color="#fbf803"/><stop offset="0.700" stop-color="#ffce00"/><stop offset="0.775" stop-color="#fe2900"/><stop offset="0.800" stop-color="#fa0400"/><stop offset="0.838" stop-color="#c20000"/><stop offset="0.887" stop-color="#940000"/><stop offset="0.950" stop-color="#810000"/><stop offset="1.000" stop-color="#800000"/></linearGradient>
<linearGradient id="a105" gradientUnits="userSpaceOnUse" x1="41.25" x2="124.80" y1="0" y2="0" spreadMethod="reflect"><stop offset="0.000" stop-color="#02bbfa"/><stop offset="0.287" stop-color="#04e1fa"/><stop offset="0.400" stop-color="#0ff4f0"/><stop offset="0.512" stop-color="#4ff3ae"/><stop offset="0.588" stop-color="#8df36f"/><stop offset="0.675" stop-color="#f9f806"/><stop offset="0.688" stop-color="#ffe900"/><stop offset="0.738" stop-color="#ff7c00"/><stop offset="0.762" stop-color="#ff4100"/><stop offset="0.800" stop-color="#fa0400"/><stop offset="0.838" stop-color="#c20000"/><stop offset="0.887" stop-color="#940000"/><stop offset="0.950" stop-color="#810000"/><stop offset="1.000" stop-color="#800000"/></linearGradient>
<linearGradient id="a106" gradientUnits="userSpaceOnUse" x1="41.25" x2="124.80" y1="0" y2="0" spreadMethod="reflect"><stop offset="0.000" stop-color="#02b8fa"/><stop offset="0.250" stop-color="#00dafe"/><stop offset="0.412" stop-color="#11f4ee"/><stop offset="0.525" stop-color="#54f3a9"/><stop offset="0.600" stop-color="#97f464"/><stop offset="0.675" stop-color="#f7f808"/><stop offset="0.688" stop-color="#ffec00"/><stop offset="0.750" stop-color="#ff6000"/><stop offset="0.775" stop-color="#fe2b00"/><stop offset="0.800" stop-color="#fa0400"/><stop offset="0.838" stop-color="#c20000"/><stop offset="0.887" stop-color="#940000"/><stop offset="0.950" stop-color="#810000"/><stop offset="1.000" stop-color="#800000"/></linearGradient>
<linearGradient id="a107" gradientUnits="userSpaceOnUse" x1="41.25" x2="124.80" y1="0" y2="0" spreadMethod="reflect"><stop offset="0.000" stop-color="#03b5fa"/><stop offset="0.237" stop-color="#00d5fd"/><stop offset="0.412" stop-color="#0ff3f0"/><stop offset="0.512" stop-color="#47f3b6"/><stop offset="0.588" stop-color="#86f375"/><stop offset="0.662" stop-color="#e2f81a"/><stop offset="0.675" stop-color="#f4f80a"/><stop offset="0.688" stop-color="#ffee00"/><stop offset="0.738" stop-color="#ff8000"/><stop offset="0.762" stop-color="#ff4300"/><stop offset="0.800" stop-color="#fa0400"/><stop offset="0.838" stop-color="#c20000"/><stop offset="0.887" stop-color="#940000"/><stop offset="0.950" stop-color="#810000"/><stop offset="1.000" stop-color="#800000"/></linearGradient>
<linearGradient id="a108" gradientUnits="userSpaceOnUse" x1="41.25" x2="124.80" y1="0" y2="0" spreadMethod="reflect"><stop offset="0.000" stop-color="#03b3f9"/><stop offset="0.225" stop-color="#01cffd"/><stop offset="0.375" stop-color="#09eaf5"/><stop offset="0.425" stop-color="#0ff4f0"/><stop offset="0.537" stop-color="#56f3a7"/><stop offset="0.613" stop-color="#9ff55c"/><stop offset="0.675" stop-color="#f2f80c"/><stop offset="0.688" stop-color="#fff100"/><stop offset="0.725" stop-color="#ffa000"/><stop offset="0.762" stop-color="#ff4400"/><stop offset="0.787" stop-color="#fd1500"/><stop offset="0.800" stop-color="#fa0400"/><stop offset="0.838" stop-color="#c20000"/><stop offset="0.887" stop-color="#940000"/><stop offset="0.950" stop-color="#810000"/><stop offset="1.000" stop-color="#800000"/></linearGradient>
<linearGradient id="a109" gradientUnits="userSpaceOnUse" x1="41.25" x2="124.80" y1="0" y2="0" spreadMethod="reflect"><stop offset="0.000" stop-color="#03b0f9"/><stop offset="0.237" stop-color="#01cffd"/><stop offset="0.388" stop-color="#0aebf5"/><stop offset="0.438" stop-color="#12f4ed"/><stop offset="0.537" stop-color="#52f3ab"/><stop offset="0.613" stop-color="#9cf560"/><stop offset="0.688" stop-color="#fff400"/><stop offset="0.738" stop-color="#ff8400"/><stop offset="0.762" stop-color="#ff4500"/><stop offset="0.800" stop-color="#fa0400"/><stop offset="0.838" stop-color="#c20000"/><stop offset="0.887" stop-color="#940000"/><stop offset="0.950" stop-color="#810000"/><stop offset="1.000" stop-color="#800000"/></linearGradient>
<linearGradient id="a110" gradientUnits="userSpaceOnUse" x1="41.25" x2="124.80" y1="0" y2="0" spreadMethod="reflect"><stop offset="0.000" stop-color="#03adf9"/><stop offset="0.237" stop-color="#01ccfc"/><stop offset="0.362" stop-color="#06e4f9"/><stop offset="0.450" stop-color="#15f4ea"/><stop offset="0.550" stop-color="#59f3a4"/><stop offset="0.613" stop-color="#98f463"/><stop offset="0.688" stop-color="#fff700"/><stop offset="0.725" stop-color="#ffa500"/><stop offset="0.762" stop-color="#ff4600"/><stop offset="0.800" stop-color="#fa0400"/><stop offset="0.838" stop-color="#c20000"/><stop offset="0.887" stop-color="#940000"/><stop offset="0.950" stop-color="#810000"/><stop offset="1.000" stop-color="#800000"/></linearGradient>
<linearGradient id="a111" gradientUnits="userSpaceOnUse" x1="41.25" x2="124.80" y1="0" y2="0" spreadMethod="reflect"><stop offset="0.000" stop-color="#04aaf8"/><stop offset="0.250" stop-color="#01cbfc"/><stop offset="0.375" stop-color="#06e5f8"/><stop offset="0.450" stop-color="#11f4ee"/><stop offset="0.550" stop-color="#55f3a8"/><stop offset="0.613" stop-color="#95f466"/><stop offset="0.688" stop-color="#fef801"/><stop offset="0.725" stop-color="#ffa700"/><stop offset="0.762" stop-color="#ff4700"/><stop offset="0.787" stop-color="#fd1600"/><stop offset="0.800" stop-color="#fa0400"/><stop offset="0.838" stop-color="#c20000"/><stop offset="0.887" stop-color="#940000"/><stop offset="0.950" stop-color="#810000"/><stop offset="1.000" stop-color="#800000"/></linearGradient>
<linearGradient id="a112" gradientUnits="userSpaceOnUse" x1="41.25" x2="124.80" y1="0" y2="0" spreadMethod="reflect"><stop offset="0.000" stop-color="#04a7f8"/><stop offset="0.250" stop-color="#01c8fc"/><stop offset="0.375" stop-color="#05e3f9"/><stop offset="0.463" stop-color="#14f4eb"/><stop offset="0.562" stop-color="#5cf3a1"/><stop offset="0.625" stop-color="#a1f55a"/><stop offset="0.688" stop-color="#fbf803"/><stop offset="0.713" stop-color="#ffc800"/><stop offset="0.775" stop-color="#fe2e00"/><stop offset="0.800" stop-color="#fa0400"/><stop offset="0.838" stop-color="#c20000"/><stop offset="0.887" stop-color="#940000"/><stop offset="0.950" stop-color="#810000"/><stop offset="1.000" stop-color="#800000"/></linearGradient>
<linearGradient id="a113" gradientUnits="userSpaceOnUse" x1="41.25" x2="124.80" y1="0" y2="0" spreadMethod="reflect"><stop offset="0.000" stop-color="#04a5f8"/><stop offset="0.250" stop-color="#02c5fc"/><stop offset="0.388" stop-color="#05e3f9"/><stop offset="0.463" stop-color="#10f4ef"/><stop offset="0.550" stop-color="#4ef3af"/><stop offset="0.600" stop-color="#80f37c"/><stop offset="0.675" stop-color="#e5f817"/><stop offset="0.688" stop-color="#f9f806"/><stop offset="0.700" stop-color="#ffe600"/><stop offset="0.750" stop-color="#ff6b00"/><stop offset="0.775" stop-color="#fe2f00"/><stop offset="0.800" stop-color="#fa0400"/><stop offset="0.838" stop-color="#c20000"/><stop offset="0.887" stop-color="#940000"/><stop offset="0.950" stop-color="#810000"/><stop offset="1.000" stop-color="#800000"/></linearGradient>
<linearGradient id="a114" gradientUnits="userSpaceOnUse" x1="41.25" x2="124.80" y1="0" y2="0" spreadMethod="reflect"><stop offset="0.000" stop-color="#04a2f7"/><stop offset="0.250" stop-color="#02c2fb"/><stop offset="0.388" stop-color="#04e2fa"/><stop offset="0.475" stop-color="#13f4eb"/><stop offset="0.562" stop-color="#55f3a8"/><stop offset="0.625" stop-color="#9af461"/><stop offset="0.688" stop-color="#f6f808"/><stop offset="0.700" stop-color="#ffe900"/><stop offset="0.750" stop-color="#ff6d00"/><stop offset="0.775" stop-color="#fe3000"/><stop offset="0.800" stop-color="#fb0400"/><stop offset="0.838" stop-color="#c20000"/><stop offset="0.887" stop-color="#940000"/><stop offset="0.950" stop-color="#810000"/><stop offset="1.000" stop-color="#800000"/></linearGradient>
<linearGradient id="a115" gradientUnits="userSpaceOnUse" x1="41.25" x2="124.80" y1="0" y2="0" spreadMethod="reflect"><stop offset="0.000" stop-color="#04a0f7"/><stop offset="0.250" stop-color="#02bffb"/><stop offset="0.400" stop-color="#05e2fa"/><stop offset="0.475" stop-color="#10f4ef"/><stop offset="0.562" stop-color="#51f3ac"/><stop offset="0.625" stop-color="#97f464"/><stop offset="0.688" stop-color="#f4f80a"/><stop offset="0.700" stop-color="#ffec00"/><stop offset="0.750" stop-color="#ff6e00"/><stop offset="0.775" stop-color="#fe3000"/><stop offset="0.800" stop-color="#fb0400"/><stop offset="0.838" stop-color="#c20000"/><stop offset="0.887" stop-color="#940000"/><stop offset="0.950" stop-color="#810000"/><stop offset="1.000" stop-color="#800000"/></linearGradient>
<linearGradient id="a116" gradientUnits="userSpaceOnUse" x1="41.25" x2="124.80" y1="0" y2="0" spreadMethod="reflect"><stop offset="0.000" stop-color="#049df7"/><stop offset="0.250" stop-color="#02bcfb"/><stop offset="0.400" stop-color="#04e1fa"/><stop offset="0.487" stop-color="#14f4eb"/><stop offset="0.575" stop-color="#59f3a4"/><stop offset="0.650" stop-color="#b7f644"/><stop offset="0.688" stop-color="#f1f80d"/><stop offset="0.700" stop-color="#ffef00"/><stop offset="0.738" stop-color="#ff9200"/><stop offset="0.775" stop-color="#fe3100"/><stop offset="0.800" stop-color="#fb0400"/><stop offset="0.838" stop-color="#c20000"/><stop offset="0.887" stop-color="#940000"/><stop offset="0.950" stop-color="#810000"/><stop offset="1.000" stop-color="#800000"/></linearGradient>
<linearGradient id="a117" gradientUnits="userSpaceOnUse" x1="41.25" x2="124.80" y1="0" y2="0" spreadMethod="reflect"><stop offset="0.000" stop-color="#059bf7"/><stop offset="0.250" stop-color="#02b9fa"/><stop offset="0.412" stop-color="#04e1fa"/><stop offset="0.487" stop-color="#0ff4f0"/><stop offset="0.575" stop-color="#55f3a8"/><stop offset="0.637" stop-color="#a1f55a"/><stop offset="0.688" stop-color="#eef80f"/><stop offset="0.700" stop-color="#fff200"/><stop offset="0.750" stop-color="#ff7200"/><stop offset="0.775" stop-color="#fe3200"/><stop offset="0.800" stop-color="#fb0400"/><stop offset="0.838" stop-color="#c20000"/><stop offset="0.887" stop-color="#940000"/><stop offset="0.950" stop-color="#810000"/><stop offset="1.000" stop-color="#800000"/></linearGradient>
<linearGradient id="a118" gradientUnits="userSpaceOnUse" x1="41.25" x2="124.80" y1="0" y2="0" spreadMethod="reflect"><stop offset="0.000" stop-color="#0598f6"/><stop offset="0.250" stop-color="#03b6fa"/><stop offset="0.412" stop-color="#03e0fb"/><stop offset="0.500" stop-color="#14f4eb"/><stop offset="0.588" stop-color="#5ef29f"/><stop offset="0.650" stop-color="#b0f64b"/><stop offset="0.700" stop-color="#fff500"/><stop offset="0.738" stop-color="#ff9700"/><stop offset="0.775" stop-color="#fe3200"/><stop offset="0.800" stop-color="#fb0400"/><stop offset="0.838" stop-color="#c20000"/><stop offset="0.887" stop-color="#940000"/><stop offset="0.950" stop-color="#810000"/><stop offset="1.000" stop-color="#800000"/></linearGradient>
<linearGradient id="a119" gradientUnits="userSpaceOnUse" x1="41.25" x2="124.80" y1="0" y2="0" spreadMethod="reflect"><stop offset="0.000" stop-color="#0596f6"/><stop offset="0.237" stop-color="#03b1f9"/><stop offset="0.425" stop-color="#04e0fb"/><stop offset="0.500" stop-color="#10f4ef"/><stop offset="0.588" stop-color="#5af3a3"/><stop offset="0.650" stop-color="#adf64e"/><stop offset="0.700" stop-color="#fff800"/><stop offset="0.738" stop-color="#ff9900"/><stop offset="0.775" stop-color="#fe3300"/><stop offset="0.800" stop-color="#fb0400"/><stop offset="0.838" stop-color="#c20000"/><stop offset="0.887" stop-color="#940000"/><stop offset="0.950" stop-color="#810000"/><stop offset="1.000" stop-color="#800000"/></linearGradient>
<linearGradient id="cba" x1="0" y1="0" x2="0" y2="1"><stop offset="0.000" stop-color="#800000"/><stop offset="0.080" stop-color="#cd0000"/><stop offset="0.125" stop-color="#fc0400"/><stop offset="0.200" stop-color="#ff4600"/><stop offset="0.300" stop-color="#ffaf00"/><stop offset="0.365" stop-color="#fff800"/><stop offset="0.420" stop-color="#cdf82d"/><stop offset="0.500" stop-color="#78f284"/><stop offset="0.580" stop-color="#0ff4f0"/><stop offset="0.625" stop-color="#00dafe"/><stop offset="0.700" stop-color="#0596f6"/><stop offset="0.800" stop-color="#003ee4"/><stop offset="0.900" stop-color="#000acd"/><stop offset="1.000" stop-color="#000080"/></linearGradient>
<clipPath id="cpb"><rect x="305.45" y="24.72" width="167.10" height="72.18"/></clipPath>
<linearGradient id="b24" gradientUnits="userSpaceOnUse" x1="305.45" x2="389.00" y1="0" y2="0" spreadMethod="reflect"><stop offset="0.000" stop-color="#fd1100"/><stop offset="0.075" stop-color="#f40300"/><stop offset="0.325" stop-color="#b40000"/><stop offset="0.600" stop-color="#8b0000"/><stop offset="0.838" stop-color="#800000"/><stop offset="1.000" stop-color="#800000"/></linearGradient>
<linearGradient id="b25" gradientUnits="userSpaceOnUse" x1="305.45" x2="389.00" y1="0" y2="0" spreadMethod="reflect"><stop offset="0.000" stop-color="#fd1100"/><stop offset="0.062" stop-color="#f90400"/><stop offset="0.312" stop-color="#bb0000"/><stop offset="0.613" stop-color="#900000"/><stop offset="1.000" stop-color="#800000"/></linearGradient>
<linearGradient id="b26" gradientUnits="userSpaceOnUse" x1="305.45" x2="389.00" y1="0" y2="0" spreadMethod="reflect"><stop offset="0.000" stop-color="#fd1100"/><stop offset="0.075" stop-color="#f70400"/><stop offset="0.325" stop-color="#be0000"/><stop offset="0.625" stop-color="#970000"/><stop offset="0.925" stop-color="#840000"/><stop offset="1.000" stop-color="#800000"/></linearGradient>
<linearGradient id="b27" gradientUnits="userSpaceOnUse" x1="305.45" x2="389.00" y1="0" y2="0" spreadMethod="reflect"><stop offset="0.000" stop-color="#fd1100"/><stop offset="0.087" stop-color="#f50300"/><stop offset="0.362" stop-color="#bd0000"/><stop offset="0.662" stop-color="#9c0000"/><stop offset="0.875" stop-color="#8d0000"/><stop offset="0.988" stop-color="#800000"/><stop offset="1.000" stop-color="#800000"/></linearGradient>
<linearGradient id="b28" gradientUnits="userSpaceOnUse" x1="305.45" x2="389.00" y1="0" y2="0" spreadMethod="reflect"><stop offset="0.000" stop-color="#fd1100"/><stop offset="0.087" stop-color="#f70400"/><stop offset="0.375" stop-color="#c00000"/><stop offset="0.700" stop-color="#a10000"/><stop offset="0.850" stop-color="#950000"/><stop offset="0.963" stop-color="#800000"/><stop offset="1.000" stop-color="#800000"/></linearGradient>
<linearGradient id="b29" gradientUnits="userSpaceOnUse" x1="305.45" x2="389.00" y1="0" y2="0" spreadMethod="reflect"><stop offset="0.000" stop-color="#fd1200"/><stop offset="0.100" stop-color="#f60300"/><stop offset="0.400" stop-color="#c20000"/><stop offset="0.838" stop-color="#9b0000"/><stop offset="0.950" stop-color="#810000"/><stop offset="1.000" stop-color="#800000"/></linearGradient>
<linearGradient id="b30" gradientUnits="userSpaceOnUse" x1="305.45" x2="389.00" y1="0" y2="0" spreadMethod="reflect"><stop offset="0.000" stop-color="#fd1200"/><stop offset="0.100" stop-color="#f80400"/><stop offset="0.425" stop-color="#c40000"/><stop offset="0.825" stop-color="#a20000"/><stop offset="0.938" stop-color="#820000"/><stop offset="1.000" stop-color="#800000"/></linearGradient>
<linearGradient id="b31" gradientUnits="userSpaceOnUse" x1="305.45" x2="389.00" y1="0" y2="0" spreadMethod="reflect"><stop offset="0.000" stop-color="#fd1200"/><stop offset="0.113" stop-color="#f70400"/><stop offset="0.463" stop-color="#c50000"/><stop offset="0.812" stop-color="#a80000"/><stop offset="0.925" stop-color="#840000"/><stop offset="1.000" stop-color="#800000"/></linearGradient>
<linearGradient id="b32" gradientUnits="userSpaceOnUse" x1="305.45" x2="389.00" y1="0" y2="0" spreadMethod="reflect"><stop offset="0.000" stop-color="#fd1300"/><stop offset="0.125" stop-color="#f70400"/><stop offset="0.500" stop-color="#c70000"/><stop offset="0.812" stop-color="#ac0000"/><stop offset="0.925" stop-color="#840000"/><stop offset="1.000" stop-color="#800000"/></linearGradient>
<linearGradient id="b33" gradientUnits="userSpaceOnUse" x1="305.45" x2="389.00" y1="0" y2="0" spreadMethod="reflect"><stop offset="0.000" stop-color="#fd1500"/><stop offset="0.150" stop-color="#f70400"/><stop offset="0.537" stop-color="#ca0000"/><stop offset="0.800" stop-color="#b40000"/><stop offset="0.912" stop-color="#870000"/><stop offset="1.000" stop-color="#800000"/></linearGradient>
<linearGradient id="b34" gradientUnits="userSpaceOnUse" x1="305.45" x2="389.00" y1="0" y2="0" spreadMethod="reflect"><stop offset="0.000" stop-color="#fd1800"/><stop offset="0.175" stop-color="#f80400"/><stop offset="0.613" stop-color="#cc0000"/><stop offset="0.787" stop-color="#bc0000"/><stop offset="0.838" stop-color="#a70000"/><stop offset="0.912" stop-color="#870000"/><stop offset="1.000" stop-color="#800000"/></linearGradient>
<linearGradient id="b35" gradientUnits="userSpaceOnUse" x1="305.45" x2="389.00" y1="0" y2="0" spreadMethod="reflect"><stop offset="0.000" stop-color="#fd1b00"/><stop offset="0.225" stop-color="#f80400"/><stop offset="0.775" stop-color="#c40000"/><stop offset="0.825" stop-color="#b10000"/><stop offset="0.900" stop-color="#8a0000"/><stop offset="0.988" stop-color="#800000"/><stop offset="1.000" stop-color="#800000"/></linearGradient>
<linearGradient id="b36" gradientUnits="userSpaceOnUse" x1="305.45" x2="389.00" y1="0" y2="0" spreadMethod="reflect"><stop offset="0.000" stop-color="#fd1f00"/><stop offset="0.275" stop-color="#f90400"/><stop offset="0.750" stop-color="#d00000"/><stop offset="0.812" stop-color="#bd0000"/><stop offset="0.875" stop-color="#940000"/><stop offset="0.950" stop-color="#810000"/><stop offset="1.000" stop-color="#800000"/></linearGradient>
<linearGradient id="b37" gradientUnits="userSpaceOnUse" x1="305.45" x2="389.00" y1="0" y2="0" spreadMethod="reflect"><stop offset="0.000" stop-color="#fd2300"/><stop offset="0.350" stop-color="#f90400"/><stop offset="0.750" stop-color="#d70100"/><stop offset="0.800" stop-color="#c80000"/><stop offset="0.875" stop-color="#940000"/><stop offset="0.950" stop-color="#810000"/><stop offset="1.000" stop-color="#800000"/></linearGradient>
<linearGradient id="b38" gradientUnits="userSpaceOnUse" x1="305.45" x2="389.00" y1="0" y2="0" spreadMethod="reflect"><stop offset="0.000" stop-color="#fe2800"/><stop offset="0.450" stop-color="#fa0400"/><stop offset="0.738" stop-color="#e10200"/><stop offset="0.800" stop-color="#cc0000"/><stop offset="0.875" stop-color="#940000"/><stop offset="0.950" stop-color="#810000"/><stop offset="1.000" stop-color="#800000"/></linearGradient>
<linearGradient id="b39" gradientUnits="userSpaceOnUse" x1="305.45" x2="389.00" y1="0" y2="0" spreadMethod="reflect"><stop offset="0.000" stop-color="#fe2e00"/><stop offset="0.525" stop-color="#fc0600"/><stop offset="0.725" stop-color="#ec0300"/><stop offset="0.800" stop-color="#d00000"/><stop offset="0.863" stop-color="#9c0000"/><stop offset="0.925" stop-color="#850000"/><stop offset="1.000" stop-color="#800000"/></linearGradient>
<linearGradient id="b40" gradientUnits="userSpaceOnUse" x1="305.45" x2="389.00" y1="0" y2="0" spreadMethod="reflect"><stop offset="0.000" stop-color="#fe3400"/><stop offset="0.713" stop-color="#f80400"/><stop offset="0.775" stop-color="#e30200"/><stop offset="0.812" stop-color="#c60000"/><stop offset="0.863" stop-color="#9c0000"/><stop offset="0.925" stop-color="#850000"/><stop offset="1.000" stop-color="#800000"/></linearGradient>
<linearGradient id="b41" gradientUnits="userSpaceOnUse" x1="305.45" x2="389.00" y1="0" y2="0" spreadMethod="reflect"><stop offset="0.000" stop-color="#ff3b00"/><stop offset="0.713" stop-color="#fc0900"/><stop offset="0.750" stop-color="#f60400"/><stop offset="0.800" stop-color="#d60100"/><stop offset="0.850" stop-color="#a50000"/><stop offset="0.912" stop-color="#870000"/><stop offset="1.000" stop-color="#800000"/></linearGradient>
<linearGradient id="b42" gradientUnits="userSpaceOnUse" x1="305.45" x2="389.00" y1="0" y2="0" spreadMethod="reflect"><stop offset="0.000" stop-color="#ff4300"/><stop offset="0.700" stop-color="#fd1300"/><stop offset="0.762" stop-color="#f70400"/><stop offset="0.812" stop-color="#ca0000"/><stop offset="0.863" stop-color="#9d0000"/><stop offset="0.925" stop-color="#850000"/><stop offset="1.000" stop-color="#800000"/></linearGradient>
<linearGradient id="b43" gradientUnits="userSpaceOnUse" x1="305.45" x2="389.00" y1="0" y2="0" spreadMethod="reflect"><stop offset="0.000" stop-color="#ff4a00"/><stop offset="0.688" stop-color="#fd1d00"/><stop offset="0.762" stop-color="#fc0500"/><stop offset="0.812" stop-color="#cb0000"/><stop offset="0.863" stop-color="#9d0000"/><stop offset="0.925" stop-color="#850000"/><stop offset="1.000" stop-color="#800000"/></linearGradient>
<linearGradient id="b44" gradientUnits="userSpaceOnUse" x1="305.45" x2="389.00" y1="0" y2="0" spreadMethod="reflect"><stop offset="0.000" stop-color="#ff5300"/><stop offset="0.675" stop-color="#fe2700"/><stop offset="0.750" stop-color="#fd1100"/><stop offset="0.775" stop-color="#f50300"/><stop offset="0.850" stop-color="#a60000"/><stop offset="0.900" stop-color="#8b0000"/><stop offset="0.975" stop-color="#800000"/><stop offset="1.000" stop-color="#800000"/></linearGradient>
<linearGradient id="b45" gradientUnits="userSpaceOnUse" x1="305.45" x2="389.00" y1="0" y2="0" spreadMethod="reflect"><stop offset="0.000" stop-color="#ff5c00"/><stop offset="0.662" stop-color="#fe3100"/><stop offset="0.738" stop-color="#fd1d00"/><stop offset="0.775" stop-color="#f80400"/><stop offset="0.850" stop-color="#a70000"/><stop offset="0.900" stop-color="#8b0000"/><stop offset="0.975" stop-color="#800000"/><stop offset="1.000" stop-color="#800000"/></linearGradient>
<linearGradient id="b46" gradientUnits="userSpaceOnUse" x1="305.45" x2="389.00" y1="0" y2="0" spreadMethod="reflect"><stop offset="0.000" stop-color="#ff6500"/><stop offset="0.650" stop-color="#fe3b00"/><stop offset="0.738" stop-color="#fd2300"/><stop offset="0.775" stop-color="#fb0400"/><stop offset="0.850" stop-color="#a70000"/><stop offset="0.900" stop-color="#8b0000"/><stop offset="0.975" stop-color="#800000"/><stop offset="1.000" stop-color="#800000"/></linearGradient>
<linearGradient id="b47" gradientUnits="userSpaceOnUse" x1="305.45" x2="389.00" y1="0" y2="0" spreadMethod="reflect"><stop offset="0.000" stop-color="#ff6e00"/><stop offset="0.613" stop-color="#ff4800"/><stop offset="0.713" stop-color="#fe3400"/><stop offset="0.750" stop-color="#fd1e00"/><stop offset="0.775" stop-color="#fc0600"/><stop offset="0.812" stop-color="#cf0000"/><stop offset="0.863" stop-color="#9d0000"/><stop offset="0.925" stop-color="#850000"/><stop offset="1.000" stop-color="#800000"/></linearGradient>
<linearGradient id="b48" gradientUnits="userSpaceOnUse" x1="305.45" x2="389.00" y1="0" y2="0" spreadMethod="reflect"><stop offset="0.000" stop-color="#ff7800"/><stop offset="0.600" stop-color="#ff5400"/><stop offset="0.713" stop-color="#fe3a00"/><stop offset="0.750" stop-color="#fd2100"/><stop offset="0.775" stop-color="#fc0700"/><stop offset="0.800" stop-color="#e30200"/><stop offset="0.838" stop-color="#b20000"/><stop offset="0.887" stop-color="#900000"/><stop offset="0.963" stop-color="#800000"/><stop offset="1.000" stop-color="#800000"/></linearGradient>
<linearGradient id="b49" gradientUnits="userSpaceOnUse" x1="305.45" x2="389.00" y1="0" y2="0" spreadMethod="reflect"><stop offset="0.000" stop-color="#ff8100"/><stop offset="0.600" stop-color="#ff5e00"/><stop offset="0.700" stop-color="#ff4500"/><stop offset="0.738" stop-color="#fe3000"/><stop offset="0.775" stop-color="#fc0900"/><stop offset="0.800" stop-color="#e40200"/><stop offset="0.838" stop-color="#b30000"/><stop offset="0.887" stop-color="#900000"/><stop offset="0.963" stop-color="#800000"/><stop offset="1.000" stop-color="#800000"/></linearGradient>
<linearGradient id="b50" gradientUnits="userSpaceOnUse" x1="305.45" x2="389.00" y1="0" y2="0" spreadMethod="reflect"><stop offset="0.000" stop-color="#ff8a00"/><stop offset="0.588" stop-color="#ff6900"/><stop offset="0.688" stop-color="#ff5100"/><stop offset="0.738" stop-color="#fe3300"/><stop offset="0.775" stop-color="#fc0b00"/><stop offset="0.800" stop-color="#e50200"/><stop offset="0.838" stop-color="#b30000"/><stop offset="0.887" stop-color="#900000"/><stop offset="0.963" stop-color="#800000"/><stop offset="1.000" stop-color="#800000"/></linearGradient>
<linearGradient id="b51" gradientUnits="userSpaceOnUse" x1="305.45" x2="389.00" y1="0" y2="0" spreadMethod="reflect"><stop offset="0.000" stop-color="#ff9300"/><stop offset="0.588" stop-color="#ff7300"/><stop offset="0.688" stop-color="#ff5900"/><stop offset="0.738" stop-color="#fe3600"/><stop offset="0.775" stop-color="#fc0c00"/><stop offset="0.800" stop-color="#e60200"/><stop offset="0.838" stop-color="#b30000"/><stop offset="0.887" stop-color="#900000"/><stop offset="0.963" stop-color="#800000"/><stop offset="1.000" stop-color="#800000"/></linearGradient>
<linearGradient id="b52" gradientUnits="userSpaceOnUse" x1="305.45" x2="389.00" y1="0" y2="0" spreadMethod="reflect"><stop offset="0.000" stop-color="#ff9b00"/><stop offset="0.575" stop-color="#ff7e00"/><stop offset="0.675" stop-color="#ff6500"/><stop offset="0.725" stop-color="#ff4500"/><stop offset="0.775" stop-color="#fc0d00"/><stop offset="0.787" stop-color="#f60300"/><stop offset="0.838" stop-color="#b30000"/><stop offset="0.887" stop-color="#900000"/><stop offset="0.963" stop-color="#800000"/><stop offset="1.000" stop-color="#800000"/></linearGradient>
<linearGradient id="b53" gradientUnits="userSpaceOnUse" x1="305.45" x2="389.00" y1="0" y2="0" spreadMethod="reflect"><stop offset="0.000" stop-color="#ffa400"/><stop offset="0.575" stop-color="#ff8700"/><stop offset="0.675" stop-color="#ff6c00"/><stop offset="0.713" stop-color="#ff5500"/><stop offset="0.787" stop-color="#f70400"/><stop offset="0.838" stop-color="#b30000"/><stop offset="0.887" stop-color="#900000"/><stop offset="0.963" stop-color="#800000"/><stop offset="1.000" stop-color="#800000"/></linearGradient>
<linearGradient id="b54" gradientUnits="userSpaceOnUse" x1="305.45" x2="389.00" y1="0" y2="0" spreadMethod="reflect"><stop offset="0.000" stop-color="#ffad00"/><stop offset="0.575" stop-color="#ff9100"/><stop offset="0.675" stop-color="#ff7300"/><stop offset="0.725" stop-color="#ff4d00"/><stop offset="0.787" stop-color="#f80400"/><stop offset="0.838" stop-color="#b40000"/><stop offset="0.887" stop-color="#900000"/><stop offset="0.963" stop-color="#800000"/><stop offset="1.000" stop-color="#800000"/></linearGradient>
<linearGradient id="b55" gradientUnits="userSpaceOnUse" x1="305.45" x2="389.00" y1="0" y2="0" spreadMethod="reflect"><stop offset="0.000" stop-color="#ffb700"/><stop offset="0.562" stop-color="#ff9c00"/><stop offset="0.662" stop-color="#ff8000"/><stop offset="0.700" stop-color="#ff6900"/><stop offset="0.762" stop-color="#fd2100"/><stop offset="0.787" stop-color="#f90400"/><stop offset="0.838" stop-color="#b40000"/><stop offset="0.887" stop-color="#900000"/><stop offset="0.963" stop-color="#800000"/><stop offset="1.000" stop-color="#800000"/></linearGradient>
<linearGradient id="b56" gradientUnits="userSpaceOnUse" x1="305.45" x2="389.00" y1="0" y2="0" spreadMethod="reflect"><stop offset="0.000" stop-color="#ffc000"/><stop offset="0.562" stop-color="#ffa500"/><stop offset="0.662" stop-color="#ff8700"/><stop offset="0.713" stop-color="#ff6100"/><stop offset="0.787" stop-color="#f90400"/><stop offset="0.838" stop-color="#b40000"/><stop offset="0.887" stop-color="#900000"/><stop offset="0.963" stop-color="#800000"/><stop offset="1.000" stop-color="#800000"/></linearGradient>
<linearGradient id="b57" gradientUnits="userSpaceOnUse" x1="305.45" x2="389.00" y1="0" y2="0" spreadMethod="reflect"><stop offset="0.000" stop-color="#ffca00"/><stop offset="0.550" stop-color="#ffb000"/><stop offset="0.650" stop-color="#ff9400"/><stop offset="0.700" stop-color="#ff7200"/><stop offset="0.787" stop-color="#fa0400"/><stop offset="0.838" stop-color="#b40000"/><stop offset="0.887" stop-color="#900000"/><stop offset="0.963" stop-color="#800000"/><stop offset="1.000" stop-color="#800000"/></linearGradient>
<linearGradient id="b58" gradientUnits="userSpaceOnUse" x1="305.45" x2="389.00" y1="0" y2="0" spreadMethod="reflect"><stop offset="0.000" stop-color="#ffd400"/><stop offset="0.537" stop-color="#ffbb00"/><stop offset="0.625" stop-color="#ffa500"/><stop offset="0.675" stop-color="#ff8c00"/><stop offset="0.725" stop-color="#ff5900"/><stop offset="0.787" stop-color="#fb0400"/><stop offset="0.838" stop-color="#b40000"/><stop offset="0.887" stop-color="#900000"/><stop offset="0.963" stop-color="#800000"/><stop offset="1.000" stop-color="#800000"/></linearGradient>
<linearGradient id="b59" gradientUnits="userSpaceOnUse" x1="305.45" x2="389.00" y1="0" y2="0" spreadMethod="reflect"><stop offset="0.000" stop-color="#ffde00"/><stop offset="0.537" stop-color="#ffc500"/><stop offset="0.625" stop-color="#ffad00"/><stop offset="0.675" stop-color="#ff9100"/><stop offset="0.725" stop-color="#ff5c00"/><stop offset="0.787" stop-color="#fb0400"/><stop offset="0.838" stop-color="#b40000"/><stop offset="0.887" stop-color="#900000"/><stop offset="0.963" stop-color="#800000"/><stop offset="1.000" stop-color="#800000"/></linearGradient>
<linearGradient id="b60" gradientUnits="userSpaceOnUse" x1="305.45" x2="389.00" y1="0" y2="0" spreadMethod="reflect"><stop offset="0.000" stop-color="#ffe800"/><stop offset="0.525" stop-color="#ffd000"/><stop offset="0.613" stop-color="#ffbb00"/><stop offset="0.675" stop-color="#ff9600"/><stop offset="0.725" stop-color="#ff5f00"/><stop offset="0.787" stop-color="#fc0400"/><stop offset="0.838" stop-color="#b40000"/><stop offset="0.887" stop-color="#900000"/><stop offset="0.963" stop-color="#800000"/><stop offset="1.000" stop-color="#800000"/></linearGradient>
<linearGradient id="b61" gradientUnits="userSpaceOnUse" x1="305.45" x2="389.00" y1="0" y2="0" spreadMethod="reflect"><stop offset="0.000" stop-color="#fff200"/><stop offset="0.525" stop-color="#ffda00"/><stop offset="0.600" stop-color="#ffc900"/><stop offset="0.662" stop-color="#ffa500"/><stop offset="0.713" stop-color="#ff7200"/><stop offset="0.787" stop-color="#fc0400"/><stop offset="0.838" stop-color="#b40000"/><stop offset="0.887" stop-color="#900000"/><stop offset="0.963" stop-color="#800000"/><stop offset="1.000" stop-color="#800000"/></linearGradient>
<linearGradient id="b62" gradientUnits="userSpaceOnUse" x1="305.45" x2="389.00" y1="0" y2="0" spreadMethod="reflect"><stop offset="0.000" stop-color="#fbf803"/><stop offset="0.412" stop-color="#ffed00"/><stop offset="0.575" stop-color="#ffdb00"/><stop offset="0.650" stop-color="#ffb500"/><stop offset="0.713" stop-color="#ff7500"/><stop offset="0.787" stop-color="#fc0500"/><stop offset="0.838" stop-color="#b50000"/><stop offset="0.875" stop-color="#960000"/><stop offset="0.938" stop-color="#820000"/><stop offset="1.000" stop-color="#800000"/></linearGradient>
<linearGradient id="b63" gradientUnits="userSpaceOnUse" x1="305.45" x2="389.00" y1="0" y2="0" spreadMethod="reflect"><stop offset="0.000" stop-color="#f3f80b"/><stop offset="0.463" stop-color="#fff400"/><stop offset="0.588" stop-color="#ffe000"/><stop offset="0.650" stop-color="#ffba00"/><stop offset="0.713" stop-color="#ff7800"/><stop offset="0.787" stop-color="#fc0500"/><stop offset="0.838" stop-color="#b50000"/><stop offset="0.875" stop-color="#960000"/><stop offset="0.938" stop-color="#820000"/><stop offset="1.000" stop-color="#800000"/></linearGradient>
<linearGradient id="b64" gradientUnits="userSpaceOnUse" x1="305.45" x2="389.00" y1="0" y2="0" spreadMethod="reflect"><stop offset="0.000" stop-color="#eaf813"/><stop offset="0.500" stop-color="#fcf802"/><stop offset="0.575" stop-color="#ffee00"/><stop offset="0.637" stop-color="#ffcb00"/><stop offset="0.700" stop-color="#ff8b00"/><stop offset="0.762" stop-color="#fe2c00"/><stop offset="0.787" stop-color="#fc0600"/><stop offset="0.838" stop-color="#b50000"/><stop offset="0.875" stop-color="#960000"/><stop offset="0.938" stop-color="#820000"/><stop offset="1.000" stop-color="#800000"/></linearGradient>
<linearGradient id="b65" gradientUnits="userSpaceOnUse" x1="305.45" x2="389.00" y1="0" y2="0" spreadMethod="reflect"><stop offset="0.000" stop-color="#e1f81b"/><stop offset="0.487" stop-color="#f3f80b"/><stop offset="0.575" stop-color="#fff700"/><stop offset="0.625" stop-color="#ffdc00"/><stop offset="0.700" stop-color="#ff8e00"/><stop offset="0.787" stop-color="#fc0600"/><stop offset="0.838" stop-color="#b50000"/><stop offset="0.887" stop-color="#900000"/><stop offset="0.963" stop-color="#800000"/><stop offset="1.000" stop-color="#800000"/></linearGradient>
<linearGradient id="b66" gradientUnits="userSpaceOnUse" x1="305.45" x2="389.00" y1="0" y2="0" spreadMethod="reflect"><stop offset="0.000" stop-color="#d7f824"/><stop offset="0.475" stop-color="#e9f814"/><stop offset="0.600" stop-color="#fff400"/><stop offset="0.662" stop-color="#ffbe00"/><stop offset="0.725" stop-color="#ff6d00"/><stop offset="0.787" stop-color="#fc0700"/><stop offset="0.838" stop-color="#b50000"/><stop offset="0.887" stop-color="#900000"/><stop offset="0.963" stop-color="#800000"/><stop offset="1.000" stop-color="#800000"/></linearGradient>
<linearGradient id="b67" gradientUnits="userSpaceOnUse" x1="305.45" x2="389.00" y1="0" y2="0" spreadMethod="reflect"><stop offset="0.000" stop-color="#cff82c"/><stop offset="0.475" stop-color="#e1f81b"/><stop offset="0.588" stop-color="#f6f808"/><stop offset="0.613" stop-color="#fff400"/><stop offset="0.675" stop-color="#ffb400"/><stop offset="0.738" stop-color="#ff5b00"/><stop offset="0.787" stop-color="#fc0700"/><stop offset="0.838" stop-color="#b50000"/><stop offset="0.887" stop-color="#900000"/><stop offset="0.963" stop-color="#800000"/><stop offset="1.000" stop-color="#800000"/></linearGradient>
<linearGradient id="b68" gradientUnits="userSpaceOnUse" x1="305.45" x2="389.00" y1="0" y2="0" spreadMethod="reflect"><stop offset="0.000" stop-color="#c5f735"/><stop offset="0.475" stop-color="#d9f822"/><stop offset="0.588" stop-color="#eff80e"/><stop offset="0.613" stop-color="#fdf802"/><stop offset="0.675" stop-color="#ffb700"/><stop offset="0.725" stop-color="#ff7200"/><stop offset="0.787" stop-color="#fc0800"/><stop offset="0.838" stop-color="#b50000"/><stop offset="0.887" stop-color="#900000"/><stop offset="0.963" stop-color="#800000"/><stop offset="1.000" stop-color="#800000"/></linearGradient>
<linearGradient id="b69" gradientUnits="userSpaceOnUse" x1="305.45" x2="389.00" y1="0" y2="0" spreadMethod="reflect"><stop offset="0.000" stop-color="#bbf73f"/><stop offset="0.438" stop-color="#cef82c"/><stop offset="0.575" stop-color="#e4f818"/><stop offset="0.625" stop-color="#fff400"/><stop offset="0.688" stop-color="#ffaa00"/><stop offset="0.738" stop-color="#ff5e00"/><stop offset="0.787" stop-color="#fc0800"/><stop offset="0.838" stop-color="#b50000"/><stop offset="0.887" stop-color="#900000"/><stop offset="0.963" stop-color="#800000"/><stop offset="1.000" stop-color="#800000"/></linearGradient>
<linearGradient id="b70" gradientUnits="userSpaceOnUse" x1="305.45" x2="389.00" y1="0" y2="0" spreadMethod="reflect"><stop offset="0.000" stop-color="#b1f649"/><stop offset="0.412" stop-color="#c3f737"/><stop offset="0.575" stop-color="#def81e"/><stop offset="0.625" stop-color="#fef801"/><stop offset="0.688" stop-color="#ffad00"/><stop offset="0.738" stop-color="#ff6000"/><stop offset="0.787" stop-color="#fc0800"/><stop offset="0.838" stop-color="#b50000"/><stop offset="0.887" stop-color="#900000"/><stop offset="0.963" stop-color="#800000"/><stop offset="1.000" stop-color="#800000"/></linearGradient>
<linearGradient id="b71" gradientUnits="userSpaceOnUse" x1="305.45" x2="389.00" y1="0" y2="0" spreadMethod="reflect"><stop offset="0.000" stop-color="#a8f553"/><stop offset="0.388" stop-color="#b8f742"/><stop offset="0.550" stop-color="#d1f82a"/><stop offset="0.600" stop-color="#e5f817"/><stop offset="0.625" stop-color="#f9f805"/><stop offset="0.650" stop-color="#ffe200"/><stop offset="0.725" stop-color="#ff7700"/><stop offset="0.787" stop-color="#fc0900"/><stop offset="0.838" stop-color="#b50000"/><stop offset="0.887" stop-color="#900000"/><stop offset="0.963" stop-color="#800000"/><stop offset="1.000" stop-color="#800000"/></linearGradient>
<linearGradient id="b72" gradientUnits="userSpaceOnUse" x1="305.45" x2="389.00" y1="0" y2="0" spreadMethod="reflect"><stop offset="0.000" stop-color="#9ef55d"/><stop offset="0.388" stop-color="#aff64c"/><stop offset="0.537" stop-color="#c6f834"/><stop offset="0.600" stop-color="#e0f81c"/><stop offset="0.637" stop-color="#fff600"/><stop offset="0.713" stop-color="#ff8d00"/><stop offset="0.787" stop-color="#fc0900"/><stop offset="0.838" stop-color="#b50000"/><stop offset="0.887" stop-color="#900000"/><stop offset="0.963" stop-color="#800000"/><stop offset="1.000" stop-color="#800000"/></linearGradient>
<linearGradient id="b73" gradientUnits="userSpaceOnUse" x1="305.45" x2="389.00" y1="0" y2="0" spreadMethod="reflect"><stop offset="0.000" stop-color="#94f467"/><stop offset="0.375" stop-color="#a5f556"/><stop offset="0.525" stop-color="#bcf73f"/><stop offset="0.588" stop-color="#d3f828"/><stop offset="0.637" stop-color="#fdf802"/><stop offset="0.700" stop-color="#ffa300"/><stop offset="0.750" stop-color="#ff4b00"/><stop offset="0.787" stop-color="#fc0900"/><stop offset="0.838" stop-color="#b50000"/><stop offset="0.887" stop-color="#900000"/><stop offset="0.963" stop-color="#800000"/><stop offset="1.000" stop-color="#800000"/></linearGradient>
<linearGradient id="b74" gradientUnits="userSpaceOnUse" x1="305.45" x2="389.00" y1="0" y2="0" spreadMethod="reflect"><stop offset="0.000" stop-color="#8bf371"/><stop offset="0.375" stop-color="#9cf55f"/><stop offset="0.525" stop-color="#b5f646"/><stop offset="0.588" stop-color="#cef82c"/><stop offset="0.637" stop-color="#faf805"/><stop offset="0.662" stop-color="#ffdd00"/><stop offset="0.738" stop-color="#ff6600"/><stop offset="0.787" stop-color="#fc0900"/><stop offset="0.838" stop-color="#b50000"/><stop offset="0.887" stop-color="#900000"/><stop offset="0.963" stop-color="#800000"/><stop offset="1.000" stop-color="#800000"/></linearGradient>
<linearGradient id="b75" gradientUnits="userSpaceOnUse" x1="305.45" x2="389.00" y1="0" y2="0" spreadMethod="reflect"><stop offset="0.000" stop-color="#82f37a"/><stop offset="0.350" stop-color="#92f46a"/><stop offset="0.525" stop-color="#aef64d"/><stop offset="0.588" stop-color="#c8f832"/><stop offset="0.637" stop-color="#f6f808"/><stop offset="0.650" stop-color="#fff200"/><stop offset="0.725" stop-color="#ff7e00"/><stop offset="0.787" stop-color="#fc0a00"/><stop offset="0.825" stop-color="#c40000"/><stop offset="0.875" stop-color="#960000"/><stop offset="0.938" stop-color="#820000"/><stop offset="1.000" stop-color="#800000"/></linearGradient>
<linearGradient id="b76" gradientUnits="userSpaceOnUse" x1="305.45" x2="389.00" y1="0" y2="0" spreadMethod="reflect"><stop offset="0.000" stop-color="#79f283"/><stop offset="0.350" stop-color="#8af372"/><stop offset="0.512" stop-color="#a4f557"/><stop offset="0.588" stop-color="#c3f737"/><stop offset="0.650" stop-color="#fff500"/><stop offset="0.725" stop-color="#ff8000"/><stop offset="0.787" stop-color="#fc0a00"/><stop offset="0.800" stop-color="#ee0300"/><stop offset="0.838" stop-color="#b50000"/><stop offset="0.887" stop-color="#900000"/><stop offset="0.963" stop-color="#800000"/><stop offset="1.000" stop-color="#800000"/></linearGradient>
<linearGradient id="b77" gradientUnits="userSpaceOnUse" x1="305.45" x2="389.00" y1="0" y2="0" spreadMethod="reflect"><stop offset="0.000" stop-color="#70f28c"/><stop offset="0.350" stop-color="#83f379"/><stop offset="0.500" stop-color="#9bf460"/><stop offset="0.588" stop-color="#bff73c"/><stop offset="0.650" stop-color="#fef801"/><stop offset="0.725" stop-color="#ff8100"/><stop offset="0.787" stop-color="#fc0a00"/><stop offset="0.800" stop-color="#ee0300"/><stop offset="0.838" stop-color="#b50000"/><stop offset="0.887" stop-color="#900000"/><stop offset="0.963" stop-color="#800000"/><stop offset="1.000" stop-color="#800000"/></linearGradient>
<linearGradient id="b78" gradientUnits="userSpaceOnUse" x1="305.45" x2="389.00" y1="0" y2="0" spreadMethod="reflect"><stop offset="0.000" stop-color="#68f295"/><stop offset="0.338" stop-color="#7bf280"/><stop offset="0.500" stop-color="#96f465"/><stop offset="0.575" stop-color="#b3f648"/><stop offset="0.625" stop-color="#dff81d"/><stop offset="0.650" stop-color="#fcf803"/><stop offset="0.688" stop-color="#ffc300"/><stop offset="0.738" stop-color="#ff6c00"/><stop offset="0.787" stop-color="#fc0b00"/><stop offset="0.812" stop-color="#d80100"/><stop offset="0.850" stop-color="#a90000"/><stop offset="0.900" stop-color="#8b0000"/><stop offset="0.975" stop-color="#800000"/><stop offset="1.000" stop-color="#800000"/></linearGradient>
<linearGradient id="b79" gradientUnits="userSpaceOnUse" x1="305.45" x2="389.00" y1="0" y2="0" spreadMethod="reflect"><stop offset="0.000" stop-color="#61f29c"/><stop offset="0.325" stop-color="#74f288"/><stop offset="0.500" stop-color="#92f46a"/><stop offset="0.588" stop-color="#b7f644"/><stop offset="0.650" stop-color="#f9f805"/><stop offset="0.675" stop-color="#ffd900"/><stop offset="0.738" stop-color="#ff6d00"/><stop offset="0.787" stop-color="#fc0b00"/><stop offset="0.812" stop-color="#d80100"/><stop offset="0.850" stop-color="#a90000"/><stop offset="0.900" stop-color="#8b0000"/><stop offset="0.975" stop-color="#800000"/><stop offset="1.000" stop-color="#800000"/></linearGradient>
<linearGradient id="b80" gradientUnits="userSpaceOnUse" x1="305.45" x2="389.00" y1="0" y2="0" spreadMethod="reflect"><stop offset="0.000" stop-color="#5af3a2"/><stop offset="0.325" stop-color="#6ef28e"/><stop offset="0.500" stop-color="#8ef46e"/><stop offset="0.588" stop-color="#b4f647"/><stop offset="0.650" stop-color="#f7f807"/><stop offset="0.662" stop-color="#ffef00"/><stop offset="0.738" stop-color="#ff6e00"/><stop offset="0.787" stop-color="#fc0b00"/><stop offset="0.812" stop-color="#d80100"/><stop offset="0.850" stop-color="#a90000"/><stop offset="0.900" stop-color="#8b0000"/><stop offset="0.975" stop-color="#800000"/><stop offset="1.000" stop-color="#800000"/></linearGradient>
<linearGradient id="b81" gradientUnits="userSpaceOnUse" x1="305.45" x2="389.00" y1="0" y2="0" spreadMethod="reflect"><stop offset="0.000" stop-color="#54f3a9"/><stop offset="0.325" stop-color="#68f294"/><stop offset="0.512" stop-color="#8ef46d"/><stop offset="0.588" stop-color="#b0f64a"/><stop offset="0.650" stop-color="#f4f80a"/><stop offset="0.662" stop-color="#fff200"/><stop offset="0.738" stop-color="#ff7000"/><stop offset="0.787" stop-color="#fc0b00"/><stop offset="0.812" stop-color="#d80100"/><stop offset="0.850" stop-color="#a90000"/><stop offset="0.900" stop-color="#8b0000"/><stop offset="0.975" stop-color="#800000"/><stop offset="1.000" stop-color="#800000"/></linearGradient>
<linearGradient id="b82" gradientUnits="userSpaceOnUse" x1="305.45" x2="389.00" y1="0" y2="0" spreadMethod="reflect"><stop offset="0.000" stop-color="#4ff3af"/><stop offset="0.325" stop-color="#63f29a"/><stop offset="0.512" stop-color="#8bf371"/><stop offset="0.588" stop-color="#adf64d"/><stop offset="0.637" stop-color="#e2f81a"/><stop offset="0.662" stop-color="#fff400"/><stop offset="0.738" stop-color="#ff7100"/><stop offset="0.787" stop-color="#fc0c00"/><stop offset="0.812" stop-color="#d80100"/><stop offset="0.850" stop-color="#a90000"/><stop offset="0.900" stop-color="#8b0000"/><stop offset="0.975" stop-color="#800000"/><stop offset="1.000" stop-color="#800000"/></linearGradient>
<linearGradient id="b83" gradientUnits="userSpaceOnUse" x1="305.45" x2="389.00" y1="0" y2="0" spreadMethod="reflect"><stop offset="0.000" stop-color="#49f3b4"/><stop offset="0.325" stop-color="#5ef39f"/><stop offset="0.500" stop-color="#83f378"/><stop offset="0.588" stop-color="#aaf650"/><stop offset="0.637" stop-color="#dff81c"/><stop offset="0.662" stop-color="#fff700"/><stop offset="0.738" stop-color="#ff7200"/><stop offset="0.787" stop-color="#fc0c00"/><stop offset="0.812" stop-color="#d80100"/><stop offset="0.850" stop-color="#a90000"/><stop offset="0.900" stop-color="#8b0000"/><stop offset="0.975" stop-color="#800000"/><stop offset="1.000" stop-color="#800000"/></linearGradient>
<linearGradient id="b84" gradientUnits="userSpaceOnUse" x1="305.45" x2="389.00" y1="0" y2="0" spreadMethod="reflect"><stop offset="0.000" stop-color="#44f3b9"/><stop offset="0.325" stop-color="#59f3a4"/><stop offset="0.500" stop-color="#80f37c"/><stop offset="0.588" stop-color="#a8f553"/><stop offset="0.625" stop-color="#cef82c"/><stop offset="0.662" stop-color="#fef801"/><stop offset="0.738" stop-color="#ff7400"/><stop offset="0.787" stop-color="#fc0c00"/><stop offset="0.812" stop-color="#d80100"/><stop offset="0.850" stop-color="#a90000"/><stop offset="0.900" stop-color="#8b0000"/><stop offset="0.975" stop-color="#800000"/><stop offset="1.000" stop-color="#800000"/></linearGradient>
<linearGradient id="b85" gradientUnits="userSpaceOnUse" x1="305.45" x2="389.00" y1="0" y2="0" spreadMethod="reflect"><stop offset="0.000" stop-color="#40f3be"/><stop offset="0.338" stop-color="#56f3a7"/><stop offset="0.500" stop-color="#7df27f"/><stop offset="0.588" stop-color="#a5f556"/><stop offset="0.625" stop-color="#cbf82f"/><stop offset="0.662" stop-color="#fcf803"/><stop offset="0.700" stop-color="#ffbc00"/><stop offset="0.750" stop-color="#ff5a00"/><stop offset="0.787" stop-color="#fc0c00"/><stop offset="0.812" stop-color="#d80100"/><stop offset="0.850" stop-color="#a90000"/><stop offset="0.900" stop-color="#8b0000"/><stop offset="0.975" stop-color="#800000"/><stop offset="1.000" stop-color="#800000"/></linearGradient>
<linearGradient id="b86" gradientUnits="userSpaceOnUse" x1="305.45" x2="389.00" y1="0" y2="0" spreadMethod="reflect"><stop offset="0.000" stop-color="#3bf3c2"/><stop offset="0.338" stop-color="#52f3ab"/><stop offset="0.487" stop-color="#76f286"/><stop offset="0.575" stop-color="#9bf460"/><stop offset="0.613" stop-color="#b8f742"/><stop offset="0.662" stop-color="#f9f805"/><stop offset="0.688" stop-color="#ffd400"/><stop offset="0.750" stop-color="#ff5b00"/><stop offset="0.787" stop-color="#fc0d00"/><stop offset="0.812" stop-color="#d80100"/><stop offset="0.850" stop-color="#a90000"/><stop offset="0.900" stop-color="#8b0000"/><stop offset="0.975" stop-color="#800000"/><stop offset="1.000" stop-color="#800000"/></linearGradient>
<linearGradient id="b87" gradientUnits="userSpaceOnUse" x1="305.45" x2="389.00" y1="0" y2="0" spreadMethod="reflect"><stop offset="0.000" stop-color="#38f3c6"/><stop offset="0.338" stop-color="#4ef3af"/><stop offset="0.487" stop-color="#73f289"/><stop offset="0.588" stop-color="#a0f55b"/><stop offset="0.625" stop-color="#c5f736"/><stop offset="0.662" stop-color="#f7f807"/><stop offset="0.675" stop-color="#ffec00"/><stop offset="0.750" stop-color="#ff5c00"/><stop offset="0.787" stop-color="#fc0d00"/><stop offset="0.812" stop-color="#d80100"/><stop offset="0.850" stop-color="#a90000"/><stop offset="0.900" stop-color="#8b0000"/><stop offset="0.975" stop-color="#800000"/><stop offset="1.000" stop-color="#800000"/></linearGradient>
<linearGradient id="b88" gradientUnits="userSpaceOnUse" x1="305.45" x2="389.00" y1="0" y2="0" spreadMethod="reflect"><stop offset="0.000" stop-color="#34f3ca"/><stop offset="0.338" stop-color="#4bf3b2"/><stop offset="0.487" stop-color="#70f28d"/><stop offset="0.588" stop-color="#9ef55d"/><stop offset="0.625" stop-color="#c2f739"/><stop offset="0.662" stop-color="#f5f809"/><stop offset="0.675" stop-color="#ffef00"/><stop offset="0.738" stop-color="#ff7900"/><stop offset="0.787" stop-color="#fc0d00"/><stop offset="0.812" stop-color="#d80100"/><stop offset="0.850" stop-color="#a90000"/><stop offset="0.900" stop-color="#8b0000"/><stop offset="0.975" stop-color="#800000"/><stop offset="1.000" stop-color="#800000"/></linearGradient>
<linearGradient id="b89" gradientUnits="userSpaceOnUse" x1="305.45" x2="389.00" y1="0" y2="0" spreadMethod="reflect"><stop offset="0.000" stop-color="#31f3cd"/><stop offset="0.338" stop-color="#48f3b6"/><stop offset="0.487" stop-color="#6df28f"/><stop offset="0.588" stop-color="#9cf55f"/><stop offset="0.625" stop-color="#bff73b"/><stop offset="0.662" stop-color="#f3f80b"/><stop offset="0.675" stop-color="#fff100"/><stop offset="0.750" stop-color="#ff5e00"/><stop offset="0.787" stop-color="#fc0d00"/><stop offset="0.812" stop-color="#d80100"/><stop offset="0.850" stop-color="#a90000"/><stop offset="0.900" stop-color="#8b0000"/><stop offset="0.975" stop-color="#800000"/><stop offset="1.000" stop-color="#800000"/></linearGradient>
<linearGradient id="b90" gradientUnits="userSpaceOnUse" x1="305.45" x2="389.00" y1="0" y2="0" spreadMethod="reflect"><stop offset="0.000" stop-color="#2ef3d0"/><stop offset="0.338" stop-color="#45f3b9"/><stop offset="0.487" stop-color="#6af292"/><stop offset="0.588" stop-color="#9af462"/><stop offset="0.625" stop-color="#bcf73e"/><stop offset="0.675" stop-color="#fff300"/><stop offset="0.750" stop-color="#ff6000"/><stop offset="0.787" stop-color="#fc0e00"/><stop offset="0.800" stop-color="#ee0300"/><stop offset="0.838" stop-color="#b60000"/><stop offset="0.887" stop-color="#900000"/><stop offset="0.963" stop-color="#800000"/><stop offset="1.000" stop-color="#800000"/></linearGradient>
<linearGradient id="b91" gradientUnits="userSpaceOnUse" x1="305.45" x2="389.00" y1="0" y2="0" spreadMethod="reflect"><stop offset="0.000" stop-color="#2bf3d3"/><stop offset="0.350" stop-color="#44f3ba"/><stop offset="0.500" stop-color="#6cf290"/><stop offset="0.588" stop-color="#98f464"/><stop offset="0.625" stop-color="#b9f741"/><stop offset="0.675" stop-color="#fff600"/><stop offset="0.738" stop-color="#ff7d00"/><stop offset="0.787" stop-color="#fc0e00"/><stop offset="0.800" stop-color="#ee0300"/><stop offset="0.838" stop-color="#b60000"/><stop offset="0.887" stop-color="#900000"/><stop offset="0.963" stop-color="#800000"/><stop offset="1.000" stop-color="#800000"/></linearGradient>
<linearGradient id="b92" gradientUnits="userSpaceOnUse" x1="305.45" x2="389.00" y1="0" y2="0" spreadMethod="reflect"><stop offset="0.000" stop-color="#29f4d5"/><stop offset="0.338" stop-color="#3ff3bf"/><stop offset="0.487" stop-color="#65f298"/><stop offset="0.588" stop-color="#96f466"/><stop offset="0.625" stop-color="#b7f644"/><stop offset="0.675" stop-color="#fff800"/><stop offset="0.750" stop-color="#ff6200"/><stop offset="0.787" stop-color="#fc0e00"/><stop offset="0.800" stop-color="#ee0300"/><stop offset="0.838" stop-color="#b60000"/><stop offset="0.887" stop-color="#900000"/><stop offset="0.963" stop-color="#800000"/><stop offset="1.000" stop-color="#800000"/></linearGradient>
<linearGradient id="b93" gradientUnits="userSpaceOnUse" x1="305.45" x2="389.00" y1="0" y2="0" spreadMethod="reflect"><stop offset="0.000" stop-color="#26f4d8"/><stop offset="0.350" stop-color="#3ff3bf"/><stop offset="0.500" stop-color="#67f295"/><stop offset="0.600" stop-color="#9cf55f"/><stop offset="0.637" stop-color="#c5f735"/><stop offset="0.675" stop-color="#fdf802"/><stop offset="0.738" stop-color="#ff8000"/><stop offset="0.787" stop-color="#fc0e00"/><stop offset="0.800" stop-color="#ee0300"/><stop offset="0.838" stop-color="#b60000"/><stop offset="0.887" stop-color="#900000"/><stop offset="0.963" stop-color="#800000"/><stop offset="1.000" stop-color="#800000"/></linearGradient>
<linearGradient id="b94" gradientUnits="userSpaceOnUse" x1="305.45" x2="389.00" y1="0" y2="0" spreadMethod="reflect"><stop offset="0.000" stop-color="#24f4da"/><stop offset="0.350" stop-color="#3cf3c1"/><stop offset="0.487" stop-color="#60f29c"/><stop offset="0.588" stop-color="#92f46a"/><stop offset="0.625" stop-color="#b1f649"/><stop offset="0.675" stop-color="#fbf804"/><stop offset="0.700" stop-color="#ffce00"/><stop offset="0.750" stop-color="#ff6500"/><stop offset="0.787" stop-color="#fc0f00"/><stop offset="0.800" stop-color="#ee0300"/><stop offset="0.838" stop-color="#b60000"/><stop offset="0.887" stop-color="#900000"/><stop offset="0.963" stop-color="#800000"/><stop offset="1.000" stop-color="#800000"/></linearGradient>
<linearGradient id="b95" gradientUnits="userSpaceOnUse" x1="305.45" x2="389.00" y1="0" y2="0" spreadMethod="reflect"><stop offset="0.000" stop-color="#23f4dc"/><stop offset="0.350" stop-color="#3af3c4"/><stop offset="0.500" stop-color="#63f29a"/><stop offset="0.600" stop-color="#98f463"/><stop offset="0.625" stop-color="#aff64c"/><stop offset="0.675" stop-color="#f9f806"/><stop offset="0.700" stop-color="#ffd000"/><stop offset="0.750" stop-color="#ff6600"/><stop offset="0.787" stop-color="#fc0f00"/><stop offset="0.800" stop-color="#ee0300"/><stop offset="0.838" stop-color="#b60000"/><stop offset="0.887" stop-color="#900000"/><stop offset="0.963" stop-color="#800000"/><stop offset="1.000" stop-color="#800000"/></linearGradient>
<linearGradient id="b96" gradientUnits="userSpaceOnUse" x1="305.45" x2="389.00" y1="0" y2="0" spreadMethod="reflect"><stop offset="0.000" stop-color="#21f4dd"/><stop offset="0.350" stop-color="#38f3c5"/><stop offset="0.487" stop-color="#5cf3a1"/><stop offset="0.600" stop-color="#96f465"/><stop offset="0.625" stop-color="#acf64f"/><stop offset="0.675" stop-color="#f7f807"/><stop offset="0.688" stop-color="#ffeb00"/><stop offset="0.750" stop-color="#ff6700"/><stop offset="0.787" stop-color="#fd0f00"/><stop offset="0.800" stop-color="#ee0300"/><stop offset="0.838" stop-color="#b60000"/><stop offset="0.887" stop-color="#900000"/><stop offset="0.963" stop-color="#800000"/><stop offset="1.000" stop-color="#800000"/></linearGradient>
<linearGradient id="cbb" x1="0" y1="0" x2="0" y2="1"><stop offset="0.000" stop-color="#800000"/><stop offset="0.080" stop-color="#cd0000"/><stop offset="0.125" stop-color="#fc0400"/><stop offset="0.200" stop-color="#ff4600"/><stop offset="0.300" stop-color="#ffaf00"/><stop offset="0.365" stop-color="#fff800"/><stop offset="0.420" stop-color="#cdf82d"/><stop offset="0.500" stop-color="#78f284"/><stop offset="0.580" stop-color="#0ff4f0"/><stop offset="0.625" stop-color="#00dafe"/><stop offset="0.700" stop-color="#0596f6"/><stop offset="0.800" stop-color="#003ee4"/><stop offset="0.900" stop-color="#000acd"/><stop offset="1.000" stop-color="#000080"/></linearGradient>
</defs>
<rect width="520" height="267" fill="#fff"/>
<g clip-path="url(#cpa)" shape-rendering="crispEdges">
<rect x="40.25" y="24" width="169.10" height="1" fill="url(#a24)"/>
<rect x="40.25" y="25" width="169.10" height="1" fill="url(#a25)"/>
<rect x="40.25" y="26" width="169.10" height="1" fill="url(#a26)"/>
<rect x="40.25" y="27" width="169.10" height="1" fill="url(#a27)"/>
<rect x="40.25" y="28" width="169.10" height="1" fill="url(#a28)"/>
<rect x="40.25" y="29" width="169.10" height="1" fill="url(#a29)"/>
<rect x="40.25" y="30" width="169.10" height="1" fill="url(#a30)"/>
<rect x="40.25" y="31" width="169.10" height="1" fill="url(#a31)"/>
<rect x="40.25" y="32" width="169.10" height="1" fill="url(#a32)"/>
<rect x="40.25" y="33" width="169.10" height="1" fill="url(#a33)"/>
<rect x="40.25" y="34" width="169.10" height="1" fill="url(#a34)"/>
<rect x="40.25" y="35" width="169.10" height="1" fill="url(#a35)"/>
<rect x="40.25" y="36" width="169.10" height="1" fill="url(#a36)"/>
<rect x="40.25" y="37" width="169.10" height="1" fill="url(#a37)"/>
<rect x="40.25" y="38" width="169.10" height="1" fill="url(#a38)"/>
<rect x="40.25" y="39" width="169.10" height="1" fill="url(#a39)"/>
<rect x="40.25" y="40" width="169.10" height="1" fill="url(#a40)"/>
<rect x="40.25" y="41" width="169.10" height="1" fill="url(#a41)"/>
<rect x="40.25" y="42" width="169.10" height="1" fill="url(#a42)"/>
<rect x="40.25" y="43" width="169.10" height="1" fill="url(#a43)"/>
<rect x="40.25" y="44" width="169.10" height="1" fill="url(#a44)"/>
<rect x="40.25" y="45" width="169.10" height="1" fill="url(#a45)"/>
<rect x="40.25" y="46" width="169.10" height="1" fill="url(#a46)"/>
<rect x="40.25" y="47" width="169.10" height="1" fill="url(#a47)"/>
<rect x="40.25" y="48" width="169.10" height="1" fill="url(#a48)"/>
<rect x="40.25" y="49" width="169.10" height="1" fill="url(#a49)"/>
<rect x="40.25" y="50" width="169.10" height="1" fill="url(#a50)"/>
<rect x="40.25" y="51" width="169.10" height="1" fill="url(#a51)"/>
<rect x="40.25" y="52" width="169.10" height="1" fill="url(#a52)"/>
<rect x="40.25" y="53" width="169.10" height="1" fill="url(#a53)"/>
<rect x="40.25" y="54" width="169.10" height="1" fill="url(#a54)"/>
<rect x="40.25" y="55" width="169.10" height="1" fill="url(#a55)"/>
<rect x="40.25" y="56" width="169.10" height="1" fill="url(#a56)"/>
<rect x="40.25" y="57" width="169.10" height="1" fill="url(#a57)"/>
<rect x="40.25" y="58" width="169.10" height="1" fill="url(#a58)"/>
<rect x="40.25" y="59" width="169.10" height="1" fill="url(#a59)"/>
<rect x="40.25" y="60" width="169.10" height="1" fill="url(#a60)"/>
<rect x="40.25" y="61" width="169.10" height="1" fill="url(#a61)"/>
<rect x="40.25" y="62" width="169.10" height="1" fill="url(#a62)"/>
<rect x="40.25" y="63" width="169.10" height="1" fill="url(#a63)"/>
<rect x="40.25" y="64" width="169.10" height="1" fill="url(#a64)"/>
<rect x="40.25" y="65" width="169.10" height="1" fill="url(#a65)"/>
<rect x="40.25" y="66" width="169.10" height="1" fill="url(#a66)"/>
<rect x="40.25" y="67" width="169.10" height="1" fill="url(#a67)"/>
<rect x="40.25" y="68" width="169.10" height="1" fill="url(#a68)"/>
<rect x="40.25" y="69" width="169.10" height="1" fill="url(#a69)"/>
<rect x="40.25" y="70" width="169.10" height="1" fill="url(#a70)"/>
<rect x="40.25" y="71" width="169.10" height="1" fill="url(#a71)"/>
<rect x="40.25" y="72" width="169.10" height="1" fill="url(#a72)"/>
<rect x="40.25" y="73" width="169.10" height="1" fill="url(#a73)"/>
<rect x="40.25" y="74" width="169.10" height="1" fill="url(#a74)"/>
<rect x="40.25" y="75" width="169.10" height="1" fill="url(#a75)"/>
<rect x="40.25" y="76" width="169.10" height="1" fill="url(#a76)"/>
<rect x="40.25" y="77" width="169.10" height="1" fill="url(#a77)"/>
<rect x="40.25" y="78" width="169.10" height="1" fill="url(#a78)"/>
<rect x="40.25" y="79" width="169.10" height="1" fill="url(#a79)"/>
<rect x="40.25" y="80" width="169.10" height="1" fill="url(#a80)"/>
<rect x="40.25" y="81" width="169.10" height="1" fill="url(#a81)"/>
<rect x="40.25" y="82" width="169.10" height="1" fill="url(#a82)"/>
<rect x="40.25" y="83" width="169.10" height="1" fill="url(#a83)"/>
<rect x="40.25" y="84" width="169.10" height="1" fill="url(#a84)"/>
<rect x="40.25" y="85" width="169.10" height="1" fill="url(#a85)"/>
<rect x="40.25" y="86" width="169.10" height="1" fill="url(#a86)"/>
<rect x="40.25" y="87" width="169.10" height="1" fill="url(#a87)"/>
<rect x="40.25" y="88" width="169.10" height="1" fill="url(#a88)"/>
<rect x="40.25" y="89" width="169.10" height="1" fill="url(#a89)"/>
<rect x="40.25" y="90" width="169.10" height="1" fill="url(#a90)"/>
<rect x="40.25" y="91" width="169.10" height="1" fill="url(#a91)"/>
<rect x="40.25" y="92" width="169.10" height="1" fill="url(#a92)"/>
<rect x="40.25" y="93" width="169.10" height="1" fill="url(#a93)"/>
<rect x="40.25" y="94" width="169.10" height="1" fill="url(#a94)"/>
<rect x="40.25" y="95" width="169.10" height="1" fill="url(#a95)"/>
<rect x="40.25" y="96" width="169.10" height="1" fill="url(#a96)"/>
<rect x="40.25" y="97" width="169.10" height="1" fill="url(#a97)"/>
<rect x="40.25" y="98" width="169.10" height="1" fill="url(#a98)"/>
<rect x="40.25" y="99" width="169.10" height="1" fill="url(#a99)"/>
<rect x="40.25" y="100" width="169.10" height="1" fill="url(#a100)"/>
<rect x="40.25" y="101" width="169.10" height="1" fill="url(#a101)"/>
<rect x="40.25" y="102" width="169.10" height="1" fill="url(#a102)"/>
<rect x="40.25" y="103" width="169.10" height="1" fill="url(#a103)"/>
<rect x="40.25" y="104" width="169.10" height="1" fill="url(#a104)"/>
<rect x="40.25" y="105" width="169.10" height="1" fill="url(#a105)"/>
<rect x="40.25" y="106" width="169.10" height="1" fill="url(#a106)"/>
<rect x="40.25" y="107" width="169.10" height="1" fill="url(#a107)"/>
<rect x="40.25" y="108" width="169.10" height="1" fill="url(#a108)"/>
<rect x="40.25" y="109" width="169.10" height="1" fill="url(#a109)"/>
<rect x="40.25" y="110" width="169.10" height="1" fill="url(#a110)"/>
<rect x="40.25" y="111" width="169.10" height="1" fill="url(#a111)"/>
<rect x="40.25" y="112" width="169.10" height="1" fill="url(#a112)"/>
<rect x="40.25" y="113" width="169.10" height="1" fill="url(#a113)"/>
<rect x="40.25" y="114" width="169.10" height="1" fill="url(#a114)"/>
<rect x="40.25" y="115" width="169.10" height="1" fill="url(#a115)"/>
<rect x="40.25" y="116" width="169.10" height="1" fill="url(#a116)"/>
<rect x="40.25" y="117" width="169.10" height="1" fill="url(#a117)"/>
<rect x="40.25" y="118" width="169.10" height="1" fill="url(#a118)"/>
<rect x="40.25" y="119" width="169.10" height="1" fill="url(#a119)"/>
</g>
<rect x="108.09" y="119.85" width="33.42" height="95.75" fill="#800000"/>
<polyline points="108.09,119.85 41.25,119.85 41.25,215.60 88.04,215.60 88.04,186.88 91.38,186.88 91.38,215.60 108.09,215.60" fill="none" stroke="#7a7a7a" stroke-width="0.9"/>
<polyline points="141.51,119.85 208.35,119.85 208.35,215.60 161.56,215.60 161.56,186.88 158.22,186.88 158.22,215.60 141.51,215.60" fill="none" stroke="#7a7a7a" stroke-width="0.9"/>
<path d="M108.09 215.60H141.51" stroke="#6a3030" stroke-width="0.9"/>
<polyline points="41.25,119.85 41.25,24.10 208.35,24.10 208.35,119.85" fill="none" stroke="#400000" stroke-opacity="0.55" stroke-width="0.8"/>
<rect x="29.5" y="14.5" width="191.0" height="210.5" fill="none" stroke="#727272" stroke-width="1"/>
<path d="M57.96 225.0v-2M57.96 14.5v2M91.38 225.0v-2M91.38 14.5v2M124.80 225.0v-2M124.80 14.5v2M158.22 225.0v-2M158.22 14.5v2M191.64 225.0v-2M191.64 14.5v2M29.5 215.60h2M220.5 215.60h-2M29.5 196.45h2M220.5 196.45h-2M29.5 177.30h2M220.5 177.30h-2M29.5 158.15h2M220.5 158.15h-2M29.5 139.00h2M220.5 139.00h-2M29.5 119.85h2M220.5 119.85h-2M29.5 100.70h2M220.5 100.70h-2M29.5 81.55h2M220.5 81.55h-2M29.5 62.40h2M220.5 62.40h-2M29.5 43.25h2M220.5 43.25h-2M29.5 24.10h2M220.5 24.10h-2" stroke="#777" stroke-width="0.8" fill="none"/>
<text class="t" x="57.96" y="234.20" text-anchor="middle">-4</text>
<text class="t" x="91.38" y="234.20" text-anchor="middle">-2</text>
<text class="t" x="124.80" y="234.20" text-anchor="middle">0</text>
<text class="t" x="158.22" y="234.20" text-anchor="middle">2</text>
<text class="t" x="191.64" y="234.20" text-anchor="middle">4</text>
<text class="t" x="26.50" y="218.80" text-anchor="end">0</text>
<text class="t" x="26.50" y="199.65" text-anchor="end">1</text>
<text class="t" x="26.50" y="180.50" text-anchor="end">2</text>
<text class="t" x="26.50" y="161.35" text-anchor="end">3</text>
<text class="t" x="26.50" y="142.20" text-anchor="end">4</text>
<text class="t" x="26.50" y="123.05" text-anchor="end">5</text>
<text class="t" x="26.50" y="103.90" text-anchor="end">6</text>
<text class="t" x="26.50" y="84.75" text-anchor="end">7</text>
<text class="t" x="26.50" y="65.60" text-anchor="end">8</text>
<text class="t" x="26.50" y="46.45" text-anchor="end">9</text>
<text class="t" x="26.50" y="27.30" text-anchor="end">10</text>
<text class="t" x="136.20" y="8.4" text-anchor="middle" style="font-size:8.2px" textLength="67.2" lengthAdjust="spacing">He Mole fraction</text>
<rect x="231.3" y="38" width="5.899999999999977" height="192.6" fill="url(#cba)"/>
<text class="t" x="239.40" y="233.60">0</text>
<text class="t" x="239.40" y="214.34">0.1</text>
<text class="t" x="239.40" y="195.08">0.2</text>
<text class="t" x="239.40" y="175.82">0.3</text>
<text class="t" x="239.40" y="156.56">0.4</text>
<text class="t" x="239.40" y="137.30">0.5</text>
<text class="t" x="239.40" y="118.04">0.6</text>
<text class="t" x="239.40" y="98.78">0.7</text>
<text class="t" x="239.40" y="79.52">0.8</text>
<text class="t" x="239.40" y="60.26">0.9</text>
<text class="t" x="239.40" y="41.00">1</text>
<path d="M225.90 22.6h8.4l-4.2 -6.4z" fill="#000"/>
<text class="t" x="237.30" y="23">1</text>
<path d="M225.90 238.00h8.4l-4.2 6.5z" fill="#000"/>
<text class="t" x="237.20" y="244.40">0.27</text>
<text class="b" x="126.80" y="249.30" text-anchor="middle" font-size="13"><tspan font-style="italic">r</tspan> (mm)</text>
<text class="b" x="129.80" y="263.00" text-anchor="middle" font-size="9">(a)</text>
<text class="b" transform="translate(11.20 122.00) rotate(-90)" text-anchor="middle" font-size="13"><tspan font-style="italic">z</tspan> (mm)</text>
<g clip-path="url(#cpb)" shape-rendering="crispEdges">
<rect x="304.45" y="24" width="169.10" height="1" fill="url(#b24)"/>
<rect x="304.45" y="25" width="169.10" height="1" fill="url(#b25)"/>
<rect x="304.45" y="26" width="169.10" height="1" fill="url(#b26)"/>
<rect x="304.45" y="27" width="169.10" height="1" fill="url(#b27)"/>
<rect x="304.45" y="28" width="169.10" height="1" fill="url(#b28)"/>
<rect x="304.45" y="29" width="169.10" height="1" fill="url(#b29)"/>
<rect x="304.45" y="30" width="169.10" height="1" fill="url(#b30)"/>
<rect x="304.45" y="31" width="169.10" height="1" fill="url(#b31)"/>
<rect x="304.45" y="32" width="169.10" height="1" fill="url(#b32)"/>
<rect x="304.45" y="33" width="169.10" height="1" fill="url(#b33)"/>
<rect x="304.45" y="34" width="169.10" height="1" fill="url(#b34)"/>
<rect x="304.45" y="35" width="169.10" height="1" fill="url(#b35)"/>
<rect x="304.45" y="36" width="169.10" height="1" fill="url(#b36)"/>
<rect x="304.45" y="37" width="169.10" height="1" fill="url(#b37)"/>
<rect x="304.45" y="38" width="169.10" height="1" fill="url(#b38)"/>
<rect x="304.45" y="39" width="169.10" height="1" fill="url(#b39)"/>
<rect x="304.45" y="40" width="169.10" height="1" fill="url(#b40)"/>
<rect x="304.45" y="41" width="169.10" height="1" fill="url(#b41)"/>
<rect x="304.45" y="42" width="169.10" height="1" fill="url(#b42)"/>
<rect x="304.45" y="43" width="169.10" height="1" fill="url(#b43)"/>
<rect x="304.45" y="44" width="169.10" height="1" fill="url(#b44)"/>
<rect x="304.45" y="45" width="169.10" height="1" fill="url(#b45)"/>
<rect x="304.45" y="46" width="169.10" height="1" fill="url(#b46)"/>
<rect x="304.45" y="47" width="169.10" height="1" fill="url(#b47)"/>
<rect x="304.45" y="48" width="169.10" height="1" fill="url(#b48)"/>
<rect x="304.45" y="49" width="169.10" height="1" fill="url(#b49)"/>
<rect x="304.45" y="50" width="169.10" height="1" fill="url(#b50)"/>
<rect x="304.45" y="51" width="169.10" height="1" fill="url(#b51)"/>
<rect x="304.45" y="52" width="169.10" height="1" fill="url(#b52)"/>
<rect x="304.45" y="53" width="169.10" height="1" fill="url(#b53)"/>
<rect x="304.45" y="54" width="169.10" height="1" fill="url(#b54)"/>
<rect x="304.45" y="55" width="169.10" height="1" fill="url(#b55)"/>
<rect x="304.45" y="56" width="169.10" height="1" fill="url(#b56)"/>
<rect x="304.45" y="57" width="169.10" height="1" fill="url(#b57)"/>
<rect x="304.45" y="58" width="169.10" height="1" fill="url(#b58)"/>
<rect x="304.45" y="59" width="169.10" height="1" fill="url(#b59)"/>
<rect x="304.45" y="60" width="169.10" height="1" fill="url(#b60)"/>
<rect x="304.45" y="61" width="169.10" height="1" fill="url(#b61)"/>
<rect x="304.45" y="62" width="169.10" height="1" fill="url(#b62)"/>
<rect x="304.45" y="63" width="169.10" height="1" fill="url(#b63)"/>
<rect x="304.45" y="64" width="169.10" height="1" fill="url(#b64)"/>
<rect x="304.45" y="65" width="169.10" height="1" fill="url(#b65)"/>
<rect x="304.45" y="66" width="169.10" height="1" fill="url(#b66)"/>
<rect x="304.45" y="67" width="169.10" height="1" fill="url(#b67)"/>
<rect x="304.45" y="68" width="169.10" height="1" fill="url(#b68)"/>
<rect x="304.45" y="69" width="169.10" height="1" fill="url(#b69)"/>
<rect x="304.45" y="70" width="169.10" height="1" fill="url(#b70)"/>
<rect x="304.45" y="71" width="169.10" height="1" fill="url(#b71)"/>
<rect x="304.45" y="72" width="169.10" height="1" fill="url(#b72)"/>
<rect x="304.45" y="73" width="169.10" height="1" fill="url(#b73)"/>
<rect x="304.45" y="74" width="169.10" height="1" fill="url(#b74)"/>
<rect x="304.45" y="75" width="169.10" height="1" fill="url(#b75)"/>
<rect x="304.45" y="76" width="169.10" height="1" fill="url(#b76)"/>
<rect x="304.45" y="77" width="169.10" height="1" fill="url(#b77)"/>
<rect x="304.45" y="78" width="169.10" height="1" fill="url(#b78)"/>
<rect x="304.45" y="79" width="169.10" height="1" fill="url(#b79)"/>
<rect x="304.45" y="80" width="169.10" height="1" fill="url(#b80)"/>
<rect x="304.45" y="81" width="169.10" height="1" fill="url(#b81)"/>
<rect x="304.45" y="82" width="169.10" height="1" fill="url(#b82)"/>
<rect x="304.45" y="83" width="169.10" height="1" fill="url(#b83)"/>
<rect x="304.45" y="84" width="169.10" height="1" fill="url(#b84)"/>
<rect x="304.45" y="85" width="169.10" height="1" fill="url(#b85)"/>
<rect x="304.45" y="86" width="169.10" height="1" fill="url(#b86)"/>
<rect x="304.45" y="87" width="169.10" height="1" fill="url(#b87)"/>
<rect x="304.45" y="88" width="169.10" height="1" fill="url(#b88)"/>
<rect x="304.45" y="89" width="169.10" height="1" fill="url(#b89)"/>
<rect x="304.45" y="90" width="169.10" height="1" fill="url(#b90)"/>
<rect x="304.45" y="91" width="169.10" height="1" fill="url(#b91)"/>
<rect x="304.45" y="92" width="169.10" height="1" fill="url(#b92)"/>
<rect x="304.45" y="93" width="169.10" height="1" fill="url(#b93)"/>
<rect x="304.45" y="94" width="169.10" height="1" fill="url(#b94)"/>
<rect x="304.45" y="95" width="169.10" height="1" fill="url(#b95)"/>
<rect x="304.45" y="96" width="169.10" height="1" fill="url(#b96)"/>
</g>
<rect x="372.29" y="96.90" width="33.42" height="120.30" fill="#800000"/>
<polyline points="372.29,96.90 305.45,96.90 305.45,217.20 352.24,217.20 352.24,181.11 355.58,181.11 355.58,217.20 372.29,217.20" fill="none" stroke="#7a7a7a" stroke-width="0.9"/>
<polyline points="405.71,96.90 472.55,96.90 472.55,217.20 425.76,217.20 425.76,181.11 422.42,181.11 422.42,217.20 405.71,217.20" fill="none" stroke="#7a7a7a" stroke-width="0.9"/>
<path d="M372.29 217.20H405.71" stroke="#6a3030" stroke-width="0.9"/>
<polyline points="305.45,96.90 305.45,24.72 472.55,24.72 472.55,96.90" fill="none" stroke="#400000" stroke-opacity="0.55" stroke-width="0.8"/>
<rect x="293" y="14.8" width="192.2" height="211.7" fill="none" stroke="#727272" stroke-width="1"/>
<path d="M322.16 226.5v-2M322.16 14.8v2M355.58 226.5v-2M355.58 14.8v2M389.00 226.5v-2M389.00 14.8v2M422.42 226.5v-2M422.42 14.8v2M455.84 226.5v-2M455.84 14.8v2M293 217.20h2M485.2 217.20h-2M293 193.14h2M485.2 193.14h-2M293 169.08h2M485.2 169.08h-2M293 145.02h2M485.2 145.02h-2M293 120.96h2M485.2 120.96h-2M293 96.90h2M485.2 96.90h-2M293 72.84h2M485.2 72.84h-2M293 48.78h2M485.2 48.78h-2M293 24.72h2M485.2 24.72h-2" stroke="#777" stroke-width="0.8" fill="none"/>
<text class="t" x="322.16" y="235.70" text-anchor="middle">-4</text>
<text class="t" x="355.58" y="235.70" text-anchor="middle">-2</text>
<text class="t" x="389.00" y="235.70" text-anchor="middle">0</text>
<text class="t" x="422.42" y="235.70" text-anchor="middle">2</text>
<text class="t" x="455.84" y="235.70" text-anchor="middle">4</text>
<text class="t" x="290.50" y="220.20" text-anchor="end">0</text>
<text class="t" x="290.50" y="196.14" text-anchor="end">1</text>
<text class="t" x="290.50" y="172.08" text-anchor="end">2</text>
<text class="t" x="290.50" y="148.02" text-anchor="end">3</text>
<text class="t" x="290.50" y="123.96" text-anchor="end">4</text>
<text class="t" x="290.50" y="99.90" text-anchor="end">5</text>
<text class="t" x="290.50" y="75.84" text-anchor="end">6</text>
<text class="t" x="290.50" y="51.78" text-anchor="end">7</text>
<text class="t" x="290.50" y="27.72" text-anchor="end">8</text>
<text class="t" x="400.80" y="8.4" text-anchor="middle" style="font-size:8.2px" textLength="68.6" lengthAdjust="spacing">He Mole fraction</text>
<rect x="496" y="38.4" width="6" height="193.6" fill="url(#cbb)"/>
<text class="t" x="504.80" y="235.00">0</text>
<text class="t" x="504.80" y="215.64">0.1</text>
<text class="t" x="504.80" y="196.28">0.2</text>
<text class="t" x="504.80" y="176.92">0.3</text>
<text class="t" x="504.80" y="157.56">0.4</text>
<text class="t" x="504.80" y="138.20">0.5</text>
<text class="t" x="504.80" y="118.84">0.6</text>
<text class="t" x="504.80" y="99.48">0.7</text>
<text class="t" x="504.80" y="80.12">0.8</text>
<text class="t" x="504.80" y="60.76">0.9</text>
<text class="t" x="504.80" y="41.40">1</text>
<path d="M490.60 22.6h8.4l-4.2 -6.4z" fill="#000"/>
<text class="t" x="502.00" y="23">1</text>
<path d="M490.60 239.40h8.4l-4.2 6.5z" fill="#000"/>
<text class="t" x="502.60" y="245.80">0.41</text>
<text class="b" x="389.50" y="251.30" text-anchor="middle" font-size="13"><tspan font-style="italic">r</tspan> (mm)</text>
<text class="b" x="392.30" y="264.00" text-anchor="middle" font-size="9">(b)</text>
<text class="b" transform="translate(275.00 122.30) rotate(-90)" text-anchor="middle" font-size="13"><tspan font-style="italic">z</tspan> (mm)</text>
</svg>
</body></html>
